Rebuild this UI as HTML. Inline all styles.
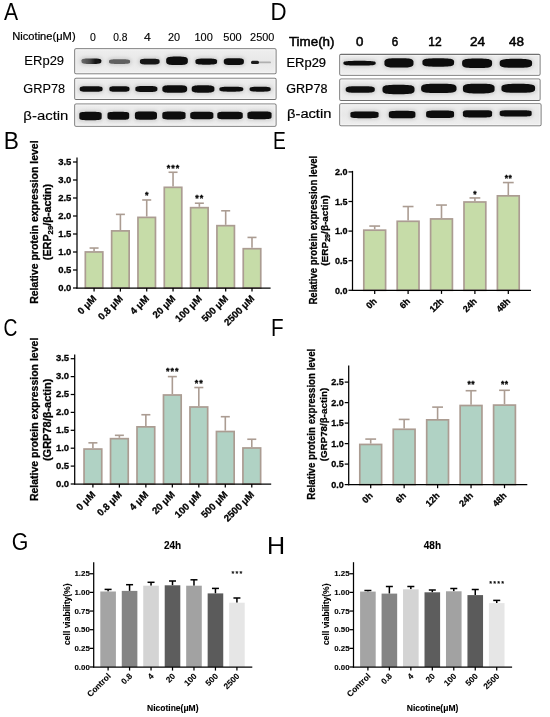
<!DOCTYPE html>
<html><head><meta charset="utf-8"><title>Figure</title>
<style>
html,body{margin:0;padding:0;background:#fff;}
body{width:550px;height:717px;overflow:hidden;}
svg{display:block;}
.b{stroke:#000;stroke-width:0.28px;}
.m{stroke:#000;stroke-width:0.22px;}
.r{stroke:#000;stroke-width:0.12px;}
.bs{stroke:#000;stroke-width:0.1px;}
.h{stroke:#000;stroke-width:0.5px;}
</style></head>
<body>
<svg width="550" height="717" viewBox="0 0 550 717">
<defs>
<filter id="bl" x="-20%" y="-80%" width="140%" height="260%"><feGaussianBlur stdDeviation="0.65"/></filter>
<filter id="bl2" x="-30%" y="-100%" width="160%" height="300%"><feGaussianBlur stdDeviation="1.6"/></filter>
<linearGradient id="g0" x1="0" y1="0" x2="1" y2="0">
<stop offset="0" stop-color="#6a6a6a"/><stop offset="0.4" stop-color="#4a4a4a"/><stop offset="0.7" stop-color="#141414"/><stop offset="1" stop-color="#101010"/>
</linearGradient>
<linearGradient id="bg" x1="0" y1="0" x2="0" y2="1">
<stop offset="0" stop-color="#eeeeee"/><stop offset="0.5" stop-color="#e8e8e8"/><stop offset="1" stop-color="#efefef"/>
</linearGradient>
</defs>
<rect width="550" height="717" fill="#fff"/>
<text x="0" y="0" transform="translate(4.1,19.6) scale(0.91,1)" font-family="'Liberation Sans','Noto Sans CJK SC',sans-serif" font-size="23.2" fill="#000">A</text>
<text x="0" y="0" transform="translate(270.61,20) scale(0.96,1)" font-family="'Liberation Sans','Noto Sans CJK SC',sans-serif" font-size="23.2" fill="#000">D</text>
<text x="0" y="0" transform="translate(3.69,148.7) scale(0.98,1)" font-family="'Liberation Sans','Noto Sans CJK SC',sans-serif" font-size="23.2" fill="#000">B</text>
<text x="0" y="0" transform="translate(273.06,148.7) scale(0.83,1)" font-family="'Liberation Sans','Noto Sans CJK SC',sans-serif" font-size="23.2" fill="#000">E</text>
<text x="0" y="0" transform="translate(3.43,336.2) scale(0.83,1)" font-family="'Liberation Sans','Noto Sans CJK SC',sans-serif" font-size="23.2" fill="#000">C</text>
<text x="0" y="0" transform="translate(271.05,336) scale(0.89,1)" font-family="'Liberation Sans','Noto Sans CJK SC',sans-serif" font-size="23.2" fill="#000">F</text>
<text x="0" y="0" transform="translate(11.84,550) scale(0.92,1)" font-family="'Liberation Sans','Noto Sans CJK SC',sans-serif" font-size="23.2" fill="#000">G</text>
<text x="0" y="0" transform="translate(266.9,554.4) scale(1.08,1)" font-family="'Liberation Sans','Noto Sans CJK SC',sans-serif" font-size="23.2" fill="#000">H</text>
<rect x="74.8" y="48.8" width="201.2" height="25" rx="1.2" fill="url(#bg)" stroke="#707070" stroke-width="1.1"/>
<rect x="75.8" y="49.8" width="199.2" height="23" fill="none" stroke="#f7f7f7" stroke-width="0.8"/>
<rect x="74.8" y="78.2" width="201.2" height="21.3" rx="1.2" fill="url(#bg)" stroke="#707070" stroke-width="1.1"/>
<rect x="75.8" y="79.2" width="199.2" height="19.3" fill="none" stroke="#f7f7f7" stroke-width="0.8"/>
<rect x="74.8" y="104" width="201.2" height="22.2" rx="1.2" fill="url(#bg)" stroke="#707070" stroke-width="1.1"/>
<rect x="75.8" y="105" width="199.2" height="20.2" fill="none" stroke="#f7f7f7" stroke-width="0.8"/>
<polygon points="102.80,61.20 102.75,62.73 102.58,63.44 102.31,63.99 101.92,64.43 101.42,64.81 100.80,65.12 100.05,65.38 99.16,65.59 98.09,65.75 96.78,65.86 95.08,65.93 91.40,65.95 87.72,65.93 86.02,65.86 84.71,65.75 83.64,65.59 82.75,65.38 82.00,65.12 81.38,64.81 80.88,64.43 80.49,63.99 80.22,63.44 80.05,62.73 80.00,61.20 80.05,59.67 80.22,58.96 80.49,58.41 80.88,57.97 81.38,57.59 82.00,57.28 82.75,57.02 83.64,56.81 84.71,56.65 86.02,56.54 87.72,56.47 91.40,56.45 95.08,56.47 96.78,56.54 98.09,56.65 99.16,56.81 100.05,57.02 100.80,57.28 101.42,57.59 101.92,57.97 102.31,58.41 102.58,58.96 102.75,59.67" fill="#b8b8b8" opacity="0.45" filter="url(#bl2)"/>
<polygon points="101.30,61.20 101.25,62.09 101.11,62.50 100.87,62.81 100.54,63.07 100.11,63.29 99.57,63.47 98.91,63.62 98.14,63.74 97.21,63.83 96.07,63.90 94.59,63.94 91.40,63.95 88.21,63.94 86.73,63.90 85.59,63.83 84.66,63.74 83.89,63.62 83.23,63.47 82.69,63.29 82.26,63.07 81.93,62.81 81.69,62.50 81.55,62.09 81.50,61.20 81.55,60.31 81.69,59.90 81.93,59.59 82.26,59.33 82.69,59.11 83.23,58.93 83.89,58.78 84.66,58.66 85.59,58.57 86.73,58.50 88.21,58.46 91.40,58.45 94.59,58.46 96.07,58.50 97.21,58.57 98.14,58.66 98.91,58.78 99.57,58.93 100.11,59.11 100.54,59.33 100.87,59.59 101.11,59.90 101.25,60.31" fill="url(#g0)" filter="url(#bl)"/>
<polygon points="131.60,61.60 131.54,63.00 131.37,63.65 131.08,64.15 130.67,64.56 130.15,64.90 129.49,65.19 128.70,65.43 127.75,65.62 126.62,65.76 125.24,65.87 123.44,65.93 119.55,65.95 115.66,65.93 113.86,65.87 112.48,65.76 111.35,65.62 110.40,65.43 109.61,65.19 108.95,64.90 108.43,64.56 108.02,64.15 107.73,63.65 107.56,63.00 107.50,61.60 107.56,60.20 107.73,59.55 108.02,59.05 108.43,58.64 108.95,58.30 109.61,58.01 110.40,57.77 111.35,57.58 112.48,57.44 113.86,57.33 115.66,57.27 119.55,57.25 123.44,57.27 125.24,57.33 126.62,57.44 127.75,57.58 128.70,57.77 129.49,58.01 130.15,58.30 130.67,58.64 131.08,59.05 131.37,59.55 131.54,60.20" fill="#b8b8b8" opacity="0.45" filter="url(#bl2)"/>
<polygon points="130.10,61.60 130.05,62.36 129.90,62.71 129.65,62.98 129.29,63.20 128.83,63.38 128.25,63.54 127.56,63.67 126.73,63.77 125.74,63.85 124.53,63.91 122.95,63.94 119.55,63.95 116.15,63.94 114.57,63.91 113.36,63.85 112.37,63.77 111.54,63.67 110.85,63.54 110.27,63.38 109.81,63.20 109.45,62.98 109.20,62.71 109.05,62.36 109.00,61.60 109.05,60.84 109.20,60.49 109.45,60.22 109.81,60.00 110.27,59.82 110.85,59.66 111.54,59.53 112.37,59.43 113.36,59.35 114.57,59.29 116.15,59.26 119.55,59.25 122.95,59.26 124.53,59.29 125.74,59.35 126.73,59.43 127.56,59.53 128.25,59.66 128.83,59.82 129.29,60.00 129.65,60.22 129.90,60.49 130.05,60.84" fill="#606060" filter="url(#bl)"/>
<polygon points="161.10,61.60 161.05,63.20 160.88,63.94 160.61,64.50 160.23,64.97 159.73,65.36 159.11,65.68 158.36,65.95 157.47,66.17 156.41,66.34 155.11,66.46 153.41,66.53 149.75,66.55 146.09,66.53 144.39,66.46 143.09,66.34 142.03,66.17 141.14,65.95 140.39,65.68 139.77,65.36 139.27,64.97 138.89,64.50 138.62,63.94 138.45,63.20 138.40,61.60 138.45,60.00 138.62,59.26 138.89,58.70 139.27,58.23 139.77,57.84 140.39,57.52 141.14,57.25 142.03,57.03 143.09,56.86 144.39,56.74 146.09,56.67 149.75,56.65 153.41,56.67 155.11,56.74 156.41,56.86 157.47,57.03 158.36,57.25 159.11,57.52 159.73,57.84 160.23,58.23 160.61,58.70 160.88,59.26 161.05,60.00" fill="#b8b8b8" opacity="0.45" filter="url(#bl2)"/>
<polygon points="159.60,61.60 159.55,62.55 159.41,62.99 159.18,63.33 158.84,63.61 158.41,63.84 157.87,64.03 157.23,64.19 156.45,64.32 155.53,64.42 154.40,64.49 152.93,64.54 149.75,64.55 146.57,64.54 145.10,64.49 143.97,64.42 143.05,64.32 142.27,64.19 141.63,64.03 141.09,63.84 140.66,63.61 140.32,63.33 140.09,62.99 139.95,62.55 139.90,61.60 139.95,60.65 140.09,60.21 140.32,59.87 140.66,59.59 141.09,59.36 141.63,59.17 142.27,59.01 143.05,58.88 143.97,58.78 145.10,58.71 146.57,58.66 149.75,58.65 152.93,58.66 154.40,58.71 155.53,58.78 156.45,58.88 157.23,59.01 157.87,59.17 158.41,59.36 158.84,59.59 159.18,59.87 159.41,60.21 159.55,60.65" fill="#151515" filter="url(#bl)"/>
<polygon points="189.30,60.80 189.24,62.82 189.07,63.75 188.77,64.47 188.36,65.05 187.82,65.54 187.15,65.96 186.34,66.30 185.37,66.57 184.21,66.78 182.80,66.93 180.97,67.02 177.00,67.05 173.03,67.02 171.20,66.93 169.79,66.78 168.63,66.57 167.66,66.30 166.85,65.96 166.18,65.54 165.64,65.05 165.23,64.47 164.93,63.75 164.76,62.82 164.70,60.80 164.76,58.78 164.93,57.85 165.23,57.13 165.64,56.55 166.18,56.06 166.85,55.64 167.66,55.30 168.63,55.03 169.79,54.82 171.20,54.67 173.03,54.58 177.00,54.55 180.97,54.58 182.80,54.67 184.21,54.82 185.37,55.03 186.34,55.30 187.15,55.64 187.82,56.06 188.36,56.55 188.77,57.13 189.07,57.85 189.24,58.78" fill="#b8b8b8" opacity="0.45" filter="url(#bl2)"/>
<polygon points="187.80,60.80 187.75,62.17 187.59,62.81 187.34,63.29 186.97,63.69 186.50,64.03 185.91,64.31 185.20,64.54 184.35,64.72 183.33,64.87 182.10,64.97 180.48,65.03 177.00,65.05 173.52,65.03 171.90,64.97 170.67,64.87 169.65,64.72 168.80,64.54 168.09,64.31 167.50,64.03 167.03,63.69 166.66,63.29 166.41,62.81 166.25,62.17 166.20,60.80 166.25,59.43 166.41,58.79 166.66,58.31 167.03,57.91 167.50,57.57 168.09,57.29 168.80,57.06 169.65,56.88 170.67,56.73 171.90,56.63 173.52,56.57 177.00,56.55 180.48,56.57 182.10,56.63 183.33,56.73 184.35,56.88 185.20,57.06 185.91,57.29 186.50,57.57 186.97,57.91 187.34,58.31 187.59,58.79 187.75,59.43" fill="#080808" filter="url(#bl)"/>
<polygon points="218.60,61.60 218.54,63.23 218.36,63.98 218.07,64.56 217.65,65.04 217.11,65.43 216.44,65.77 215.62,66.04 214.65,66.26 213.49,66.43 212.08,66.55 210.23,66.63 206.25,66.65 202.27,66.63 200.42,66.55 199.01,66.43 197.85,66.26 196.88,66.04 196.06,65.77 195.39,65.43 194.85,65.04 194.43,64.56 194.14,63.98 193.96,63.23 193.90,61.60 193.96,59.97 194.14,59.22 194.43,58.64 194.85,58.16 195.39,57.77 196.06,57.43 196.88,57.16 197.85,56.94 199.01,56.77 200.42,56.65 202.27,56.57 206.25,56.55 210.23,56.57 212.08,56.65 213.49,56.77 214.65,56.94 215.62,57.16 216.44,57.43 217.11,57.77 217.65,58.16 218.07,58.64 218.36,59.22 218.54,59.97" fill="#b8b8b8" opacity="0.45" filter="url(#bl2)"/>
<polygon points="217.10,61.60 217.05,62.58 216.89,63.04 216.63,63.39 216.27,63.68 215.79,63.91 215.20,64.12 214.49,64.28 213.63,64.42 212.61,64.52 211.37,64.59 209.75,64.64 206.25,64.65 202.75,64.64 201.13,64.59 199.89,64.52 198.87,64.42 198.01,64.28 197.30,64.12 196.71,63.91 196.23,63.68 195.87,63.39 195.61,63.04 195.45,62.58 195.40,61.60 195.45,60.62 195.61,60.16 195.87,59.81 196.23,59.52 196.71,59.29 197.30,59.08 198.01,58.92 198.87,58.78 199.89,58.68 201.13,58.61 202.75,58.56 206.25,58.55 209.75,58.56 211.37,58.61 212.61,58.68 213.63,58.78 214.49,58.92 215.20,59.08 215.79,59.29 216.27,59.52 216.63,59.81 216.89,60.16 217.05,60.62" fill="#101010" filter="url(#bl)"/>
<polygon points="245.40,61.60 245.34,63.36 245.18,64.17 244.90,64.80 244.51,65.31 244.01,65.74 243.38,66.10 242.62,66.39 241.71,66.63 240.62,66.82 239.30,66.95 237.58,67.02 233.85,67.05 230.12,67.02 228.40,66.95 227.08,66.82 225.99,66.63 225.08,66.39 224.32,66.10 223.69,65.74 223.19,65.31 222.80,64.80 222.52,64.17 222.36,63.36 222.30,61.60 222.36,59.84 222.52,59.03 222.80,58.40 223.19,57.89 223.69,57.46 224.32,57.10 225.08,56.81 225.99,56.57 227.08,56.38 228.40,56.25 230.12,56.18 233.85,56.15 237.58,56.18 239.30,56.25 240.62,56.38 241.71,56.57 242.62,56.81 243.38,57.10 244.01,57.46 244.51,57.89 244.90,58.40 245.18,59.03 245.34,59.84" fill="#b8b8b8" opacity="0.45" filter="url(#bl2)"/>
<polygon points="243.90,61.60 243.85,62.71 243.71,63.23 243.47,63.62 243.13,63.95 242.69,64.22 242.14,64.45 241.48,64.63 240.69,64.79 239.74,64.90 238.59,64.98 237.09,65.03 233.85,65.05 230.61,65.03 229.11,64.98 227.96,64.90 227.01,64.79 226.22,64.63 225.56,64.45 225.01,64.22 224.57,63.95 224.23,63.62 223.99,63.23 223.85,62.71 223.80,61.60 223.85,60.49 223.99,59.97 224.23,59.58 224.57,59.25 225.01,58.98 225.56,58.75 226.22,58.57 227.01,58.41 227.96,58.30 229.11,58.22 230.61,58.17 233.85,58.15 237.09,58.17 238.59,58.22 239.74,58.30 240.69,58.41 241.48,58.57 242.14,58.75 242.69,58.98 243.13,59.25 243.47,59.58 243.71,59.97 243.85,60.49" fill="#0a0a0a" filter="url(#bl)"/>
<rect x="256" y="61.5" width="15" height="1.8" rx="0.9" fill="#b0b0b0" filter="url(#bl)"/>
<rect x="251" y="60.8" width="8" height="3.2" rx="1.6" fill="#1a1a1a" filter="url(#bl)"/>
<polygon points="104.10,89.00 104.04,90.56 103.85,91.29 103.54,91.84 103.11,92.30 102.54,92.68 101.83,93.00 100.98,93.26 99.96,93.48 98.74,93.64 97.26,93.76 95.33,93.83 91.15,93.85 86.97,93.83 85.04,93.76 83.56,93.64 82.34,93.48 81.32,93.26 80.47,93.00 79.76,92.68 79.19,92.30 78.76,91.84 78.45,91.29 78.26,90.56 78.20,89.00 78.26,87.44 78.45,86.71 78.76,86.16 79.19,85.70 79.76,85.32 80.47,85.00 81.32,84.74 82.34,84.52 83.56,84.36 85.04,84.24 86.97,84.17 91.15,84.15 95.33,84.17 97.26,84.24 98.74,84.36 99.96,84.52 100.98,84.74 101.83,85.00 102.54,85.32 103.11,85.70 103.54,86.16 103.85,86.71 104.04,87.44" fill="#b8b8b8" opacity="0.45" filter="url(#bl2)"/>
<polygon points="102.60,89.00 102.55,89.92 102.38,90.35 102.11,90.67 101.72,90.94 101.22,91.16 100.59,91.35 99.84,91.51 98.94,91.63 97.87,91.73 96.55,91.80 94.84,91.84 91.15,91.85 87.46,91.84 85.75,91.80 84.43,91.73 83.36,91.63 82.46,91.51 81.71,91.35 81.08,91.16 80.58,90.94 80.19,90.67 79.92,90.35 79.75,89.92 79.70,89.00 79.75,88.08 79.92,87.65 80.19,87.33 80.58,87.06 81.08,86.84 81.71,86.65 82.46,86.49 83.36,86.37 84.43,86.27 85.75,86.20 87.46,86.16 91.15,86.15 94.84,86.16 96.55,86.20 97.87,86.27 98.94,86.37 99.84,86.49 100.59,86.65 101.22,86.84 101.72,87.06 102.11,87.33 102.38,87.65 102.55,88.08" fill="#0d0d0d" filter="url(#bl)"/>
<polygon points="131.00,89.00 130.94,90.56 130.78,91.29 130.50,91.84 130.11,92.30 129.60,92.68 128.97,93.00 128.20,93.26 127.29,93.48 126.20,93.64 124.87,93.76 123.14,93.83 119.40,93.85 115.66,93.83 113.93,93.76 112.60,93.64 111.51,93.48 110.60,93.26 109.83,93.00 109.20,92.68 108.69,92.30 108.30,91.84 108.02,91.29 107.86,90.56 107.80,89.00 107.86,87.44 108.02,86.71 108.30,86.16 108.69,85.70 109.20,85.32 109.83,85.00 110.60,84.74 111.51,84.52 112.60,84.36 113.93,84.24 115.66,84.17 119.40,84.15 123.14,84.17 124.87,84.24 126.20,84.36 127.29,84.52 128.20,84.74 128.97,85.00 129.60,85.32 130.11,85.70 130.50,86.16 130.78,86.71 130.94,87.44" fill="#b8b8b8" opacity="0.45" filter="url(#bl2)"/>
<polygon points="129.50,89.00 129.45,89.92 129.31,90.35 129.07,90.67 128.72,90.94 128.28,91.16 127.73,91.35 127.07,91.51 126.27,91.63 125.32,91.73 124.17,91.80 122.66,91.84 119.40,91.85 116.14,91.84 114.63,91.80 113.48,91.73 112.53,91.63 111.73,91.51 111.07,91.35 110.52,91.16 110.08,90.94 109.73,90.67 109.49,90.35 109.35,89.92 109.30,89.00 109.35,88.08 109.49,87.65 109.73,87.33 110.08,87.06 110.52,86.84 111.07,86.65 111.73,86.49 112.53,86.37 113.48,86.27 114.63,86.20 116.14,86.16 119.40,86.15 122.66,86.16 124.17,86.20 125.32,86.27 126.27,86.37 127.07,86.49 127.73,86.65 128.28,86.84 128.72,87.06 129.07,87.33 129.31,87.65 129.45,88.08" fill="#0d0d0d" filter="url(#bl)"/>
<polygon points="158.90,89.00 158.84,90.63 158.66,91.38 158.36,91.96 157.94,92.44 157.39,92.83 156.70,93.17 155.88,93.44 154.89,93.66 153.71,93.83 152.27,93.95 150.40,94.03 146.35,94.05 142.30,94.03 140.43,93.95 138.99,93.83 137.81,93.66 136.82,93.44 136.00,93.17 135.31,92.83 134.76,92.44 134.34,91.96 134.04,91.38 133.86,90.63 133.80,89.00 133.86,87.37 134.04,86.62 134.34,86.04 134.76,85.56 135.31,85.17 136.00,84.83 136.82,84.56 137.81,84.34 138.99,84.17 140.43,84.05 142.30,83.97 146.35,83.95 150.40,83.97 152.27,84.05 153.71,84.17 154.89,84.34 155.88,84.56 156.70,84.83 157.39,85.17 157.94,85.56 158.36,86.04 158.66,86.62 158.84,87.37" fill="#b8b8b8" opacity="0.45" filter="url(#bl2)"/>
<polygon points="157.40,89.00 157.35,89.98 157.19,90.44 156.92,90.79 156.55,91.08 156.07,91.31 155.46,91.52 154.74,91.68 153.87,91.82 152.83,91.92 151.56,91.99 149.92,92.04 146.35,92.05 142.78,92.04 141.14,91.99 139.87,91.92 138.83,91.82 137.96,91.68 137.24,91.52 136.63,91.31 136.15,91.08 135.78,90.79 135.51,90.44 135.35,89.98 135.30,89.00 135.35,88.02 135.51,87.56 135.78,87.21 136.15,86.92 136.63,86.69 137.24,86.48 137.96,86.32 138.83,86.18 139.87,86.08 141.14,86.01 142.78,85.96 146.35,85.95 149.92,85.96 151.56,86.01 152.83,86.08 153.87,86.18 154.74,86.32 155.46,86.48 156.07,86.69 156.55,86.92 156.92,87.21 157.19,87.56 157.35,88.02" fill="#0d0d0d" filter="url(#bl)"/>
<polygon points="188.70,89.00 188.63,90.89 188.43,91.76 188.10,92.43 187.63,92.98 187.02,93.44 186.26,93.83 185.34,94.14 184.24,94.40 182.93,94.60 181.33,94.74 179.25,94.82 174.75,94.85 170.25,94.82 168.17,94.74 166.57,94.60 165.26,94.40 164.16,94.14 163.24,93.83 162.48,93.44 161.87,92.98 161.40,92.43 161.07,91.76 160.87,90.89 160.80,89.00 160.87,87.11 161.07,86.24 161.40,85.57 161.87,85.02 162.48,84.56 163.24,84.17 164.16,83.86 165.26,83.60 166.57,83.40 168.17,83.26 170.25,83.18 174.75,83.15 179.25,83.18 181.33,83.26 182.93,83.40 184.24,83.60 185.34,83.86 186.26,84.17 187.02,84.56 187.63,85.02 188.10,85.57 188.43,86.24 188.63,87.11" fill="#b8b8b8" opacity="0.45" filter="url(#bl2)"/>
<polygon points="187.20,89.00 187.14,90.24 186.96,90.82 186.66,91.26 186.24,91.62 185.70,91.92 185.02,92.18 184.20,92.39 183.22,92.55 182.05,92.68 180.63,92.78 178.77,92.83 174.75,92.85 170.73,92.83 168.87,92.78 167.45,92.68 166.28,92.55 165.30,92.39 164.48,92.18 163.80,91.92 163.26,91.62 162.84,91.26 162.54,90.82 162.36,90.24 162.30,89.00 162.36,87.76 162.54,87.18 162.84,86.74 163.26,86.38 163.80,86.08 164.48,85.82 165.30,85.61 166.28,85.45 167.45,85.32 168.87,85.22 170.73,85.17 174.75,85.15 178.77,85.17 180.63,85.22 182.05,85.32 183.22,85.45 184.20,85.61 185.02,85.82 185.70,86.08 186.24,86.38 186.66,86.74 186.96,87.18 187.14,87.76" fill="#0d0d0d" filter="url(#bl)"/>
<polygon points="215.90,89.00 215.84,90.86 215.65,91.71 215.35,92.37 214.91,92.91 214.35,93.36 213.65,93.74 212.80,94.06 211.79,94.31 210.59,94.50 209.11,94.64 207.20,94.72 203.05,94.75 198.90,94.72 196.99,94.64 195.51,94.50 194.31,94.31 193.30,94.06 192.45,93.74 191.75,93.36 191.19,92.91 190.75,92.37 190.45,91.71 190.26,90.86 190.20,89.00 190.26,87.14 190.45,86.29 190.75,85.63 191.19,85.09 191.75,84.64 192.45,84.26 193.30,83.94 194.31,83.69 195.51,83.50 196.99,83.36 198.90,83.28 203.05,83.25 207.20,83.28 209.11,83.36 210.59,83.50 211.79,83.69 212.80,83.94 213.65,84.26 214.35,84.64 214.91,85.09 215.35,85.63 215.65,86.29 215.84,87.14" fill="#b8b8b8" opacity="0.45" filter="url(#bl2)"/>
<polygon points="214.40,89.00 214.35,90.21 214.18,90.77 213.91,91.20 213.53,91.55 213.03,91.85 212.41,92.09 211.66,92.30 210.77,92.46 209.71,92.59 208.41,92.68 206.71,92.73 203.05,92.75 199.39,92.73 197.69,92.68 196.39,92.59 195.33,92.46 194.44,92.30 193.69,92.09 193.07,91.85 192.57,91.55 192.19,91.20 191.92,90.77 191.75,90.21 191.70,89.00 191.75,87.79 191.92,87.23 192.19,86.80 192.57,86.45 193.07,86.15 193.69,85.91 194.44,85.70 195.33,85.54 196.39,85.41 197.69,85.32 199.39,85.27 203.05,85.25 206.71,85.27 208.41,85.32 209.71,85.41 210.77,85.54 211.66,85.70 212.41,85.91 213.03,86.15 213.53,86.45 213.91,86.80 214.18,87.23 214.35,87.79" fill="#0d0d0d" filter="url(#bl)"/>
<polygon points="244.80,89.20 244.74,90.64 244.54,91.30 244.22,91.81 243.77,92.23 243.18,92.58 242.44,92.87 241.56,93.11 240.50,93.31 239.24,93.46 237.70,93.57 235.69,93.63 231.35,93.65 227.01,93.63 225.00,93.57 223.46,93.46 222.20,93.31 221.14,93.11 220.26,92.87 219.52,92.58 218.93,92.23 218.48,91.81 218.16,91.30 217.96,90.64 217.90,89.20 217.96,87.76 218.16,87.10 218.48,86.59 218.93,86.17 219.52,85.82 220.26,85.53 221.14,85.29 222.20,85.09 223.46,84.94 225.00,84.83 227.01,84.77 231.35,84.75 235.69,84.77 237.70,84.83 239.24,84.94 240.50,85.09 241.56,85.29 242.44,85.53 243.18,85.82 243.77,86.17 244.22,86.59 244.54,87.10 244.74,87.76" fill="#b8b8b8" opacity="0.45" filter="url(#bl2)"/>
<polygon points="243.30,89.20 243.24,89.99 243.07,90.36 242.79,90.64 242.38,90.87 241.86,91.06 241.21,91.22 240.42,91.35 239.48,91.46 238.36,91.54 236.99,91.60 235.21,91.64 231.35,91.65 227.49,91.64 225.71,91.60 224.34,91.54 223.22,91.46 222.28,91.35 221.49,91.22 220.84,91.06 220.32,90.87 219.91,90.64 219.63,90.36 219.46,89.99 219.40,89.20 219.46,88.41 219.63,88.04 219.91,87.76 220.32,87.53 220.84,87.34 221.49,87.18 222.28,87.05 223.22,86.94 224.34,86.86 225.71,86.80 227.49,86.76 231.35,86.75 235.21,86.76 236.99,86.80 238.36,86.86 239.48,86.94 240.42,87.05 241.21,87.18 241.86,87.34 242.38,87.53 242.79,87.76 243.07,88.04 243.24,88.41" fill="#0d0d0d" filter="url(#bl)"/>
<polygon points="272.20,89.20 272.14,90.64 271.97,91.30 271.68,91.81 271.27,92.23 270.75,92.58 270.09,92.87 269.30,93.11 268.35,93.31 267.22,93.46 265.84,93.57 264.04,93.63 260.15,93.65 256.26,93.63 254.46,93.57 253.08,93.46 251.95,93.31 251.00,93.11 250.21,92.87 249.55,92.58 249.03,92.23 248.62,91.81 248.33,91.30 248.16,90.64 248.10,89.20 248.16,87.76 248.33,87.10 248.62,86.59 249.03,86.17 249.55,85.82 250.21,85.53 251.00,85.29 251.95,85.09 253.08,84.94 254.46,84.83 256.26,84.77 260.15,84.75 264.04,84.77 265.84,84.83 267.22,84.94 268.35,85.09 269.30,85.29 270.09,85.53 270.75,85.82 271.27,86.17 271.68,86.59 271.97,87.10 272.14,87.76" fill="#b8b8b8" opacity="0.45" filter="url(#bl2)"/>
<polygon points="270.70,89.20 270.65,89.99 270.50,90.36 270.25,90.64 269.89,90.87 269.43,91.06 268.85,91.22 268.16,91.35 267.33,91.46 266.34,91.54 265.13,91.60 263.55,91.64 260.15,91.65 256.75,91.64 255.17,91.60 253.96,91.54 252.97,91.46 252.14,91.35 251.45,91.22 250.87,91.06 250.41,90.87 250.05,90.64 249.80,90.36 249.65,89.99 249.60,89.20 249.65,88.41 249.80,88.04 250.05,87.76 250.41,87.53 250.87,87.34 251.45,87.18 252.14,87.05 252.97,86.94 253.96,86.86 255.17,86.80 256.75,86.76 260.15,86.75 263.55,86.76 265.13,86.80 266.34,86.86 267.33,86.94 268.16,87.05 268.85,87.18 269.43,87.34 269.89,87.53 270.25,87.76 270.50,88.04 270.65,88.41" fill="#0d0d0d" filter="url(#bl)"/>
<polygon points="103.20,116.00 103.16,118.72 103.03,119.58 102.80,120.19 102.49,120.66 102.08,121.04 101.56,121.35 100.91,121.61 100.12,121.81 99.15,121.96 97.90,122.07 96.12,122.13 90.50,122.15 84.88,122.13 83.10,122.07 81.85,121.96 80.88,121.81 80.09,121.61 79.44,121.35 78.92,121.04 78.51,120.66 78.20,120.19 77.97,119.58 77.84,118.72 77.80,116.00 77.84,113.28 77.97,112.42 78.20,111.81 78.51,111.34 78.92,110.96 79.44,110.65 80.09,110.39 80.88,110.19 81.85,110.04 83.10,109.93 84.88,109.87 90.50,109.85 96.12,109.87 97.90,109.93 99.15,110.04 100.12,110.19 100.91,110.39 101.56,110.65 102.08,110.96 102.49,111.34 102.80,111.81 103.03,112.42 103.16,113.28" fill="#b8b8b8" opacity="0.45" filter="url(#bl2)"/>
<polygon points="101.70,116.00 101.66,117.84 101.55,118.42 101.35,118.83 101.07,119.15 100.71,119.40 100.25,119.61 99.68,119.78 98.99,119.92 98.13,120.02 97.02,120.09 95.46,120.14 90.50,120.15 85.54,120.14 83.98,120.09 82.87,120.02 82.01,119.92 81.32,119.78 80.75,119.61 80.29,119.40 79.93,119.15 79.65,118.83 79.45,118.42 79.34,117.84 79.30,116.00 79.34,114.16 79.45,113.58 79.65,113.17 79.93,112.85 80.29,112.60 80.75,112.39 81.32,112.22 82.01,112.08 82.87,111.98 83.98,111.91 85.54,111.86 90.50,111.85 95.46,111.86 97.02,111.91 98.13,111.98 98.99,112.08 99.68,112.22 100.25,112.39 100.71,112.60 101.07,112.85 101.35,113.17 101.55,113.58 101.66,114.16" fill="#0d0d0d" filter="url(#bl)"/>
<polygon points="130.70,115.80 130.66,118.44 130.53,119.27 130.32,119.85 130.01,120.31 129.61,120.68 129.10,120.98 128.48,121.22 127.71,121.42 126.76,121.56 125.54,121.67 123.82,121.73 118.35,121.75 112.88,121.73 111.16,121.67 109.94,121.56 108.99,121.42 108.22,121.22 107.60,120.98 107.09,120.68 106.69,120.31 106.38,119.85 106.17,119.27 106.04,118.44 106.00,115.80 106.04,113.16 106.17,112.33 106.38,111.75 106.69,111.29 107.09,110.92 107.60,110.62 108.22,110.38 108.99,110.18 109.94,110.04 111.16,109.93 112.88,109.87 118.35,109.85 123.82,109.87 125.54,109.93 126.76,110.04 127.71,110.18 128.48,110.38 129.10,110.62 129.61,110.92 130.01,111.29 130.32,111.75 130.53,112.33 130.66,113.16" fill="#b8b8b8" opacity="0.45" filter="url(#bl2)"/>
<polygon points="129.20,115.80 129.16,117.55 129.05,118.10 128.86,118.49 128.59,118.79 128.24,119.04 127.80,119.24 127.25,119.40 126.57,119.53 125.74,119.63 124.67,119.70 123.16,119.74 118.35,119.75 113.54,119.74 112.03,119.70 110.96,119.63 110.13,119.53 109.45,119.40 108.90,119.24 108.46,119.04 108.11,118.79 107.84,118.49 107.65,118.10 107.54,117.55 107.50,115.80 107.54,114.05 107.65,113.50 107.84,113.11 108.11,112.81 108.46,112.56 108.90,112.36 109.45,112.20 110.13,112.07 110.96,111.97 112.03,111.90 113.54,111.86 118.35,111.85 123.16,111.86 124.67,111.90 125.74,111.97 126.57,112.07 127.25,112.20 127.80,112.36 128.24,112.56 128.59,112.81 128.86,113.11 129.05,113.50 129.16,114.05" fill="#0d0d0d" filter="url(#bl)"/>
<polygon points="158.50,115.60 158.46,118.32 158.33,119.18 158.11,119.79 157.80,120.26 157.39,120.64 156.88,120.95 156.24,121.21 155.46,121.41 154.50,121.56 153.26,121.67 151.51,121.73 145.95,121.75 140.39,121.73 138.64,121.67 137.40,121.56 136.44,121.41 135.66,121.21 135.02,120.95 134.51,120.64 134.10,120.26 133.79,119.79 133.57,119.18 133.44,118.32 133.40,115.60 133.44,112.88 133.57,112.02 133.79,111.41 134.10,110.94 134.51,110.56 135.02,110.25 135.66,109.99 136.44,109.79 137.40,109.64 138.64,109.53 140.39,109.47 145.95,109.45 151.51,109.47 153.26,109.53 154.50,109.64 155.46,109.79 156.24,109.99 156.88,110.25 157.39,110.56 157.80,110.94 158.11,111.41 158.33,112.02 158.46,112.88" fill="#b8b8b8" opacity="0.45" filter="url(#bl2)"/>
<polygon points="157.00,115.60 156.96,117.44 156.85,118.02 156.66,118.43 156.38,118.75 156.02,119.00 155.57,119.21 155.01,119.38 154.32,119.52 153.47,119.62 152.39,119.69 150.84,119.74 145.95,119.75 141.06,119.74 139.51,119.69 138.43,119.62 137.58,119.52 136.89,119.38 136.33,119.21 135.88,119.00 135.52,118.75 135.24,118.43 135.05,118.02 134.94,117.44 134.90,115.60 134.94,113.76 135.05,113.18 135.24,112.77 135.52,112.45 135.88,112.20 136.33,111.99 136.89,111.82 137.58,111.68 138.43,111.58 139.51,111.51 141.06,111.46 145.95,111.45 150.84,111.46 152.39,111.51 153.47,111.58 154.32,111.68 155.01,111.82 155.57,111.99 156.02,112.20 156.38,112.45 156.66,112.77 156.85,113.18 156.96,113.76" fill="#0d0d0d" filter="url(#bl)"/>
<polygon points="187.10,115.50 187.05,118.14 186.92,118.97 186.69,119.55 186.36,120.01 185.94,120.38 185.40,120.68 184.73,120.92 183.92,121.12 182.90,121.26 181.61,121.37 179.77,121.43 173.95,121.45 168.13,121.43 166.29,121.37 165.00,121.26 163.98,121.12 163.17,120.92 162.50,120.68 161.96,120.38 161.54,120.01 161.21,119.55 160.98,118.97 160.85,118.14 160.80,115.50 160.85,112.86 160.98,112.03 161.21,111.45 161.54,110.99 161.96,110.62 162.50,110.32 163.17,110.08 163.98,109.88 165.00,109.74 166.29,109.63 168.13,109.57 173.95,109.55 179.77,109.57 181.61,109.63 182.90,109.74 183.92,109.88 184.73,110.08 185.40,110.32 185.94,110.62 186.36,110.99 186.69,111.45 186.92,112.03 187.05,112.86" fill="#b8b8b8" opacity="0.45" filter="url(#bl2)"/>
<polygon points="185.60,115.50 185.56,117.25 185.44,117.80 185.24,118.19 184.95,118.49 184.57,118.74 184.09,118.94 183.50,119.10 182.78,119.23 181.88,119.33 180.73,119.40 179.11,119.44 173.95,119.45 168.79,119.44 167.17,119.40 166.02,119.33 165.12,119.23 164.40,119.10 163.81,118.94 163.33,118.74 162.95,118.49 162.66,118.19 162.46,117.80 162.34,117.25 162.30,115.50 162.34,113.75 162.46,113.20 162.66,112.81 162.95,112.51 163.33,112.26 163.81,112.06 164.40,111.90 165.12,111.77 166.02,111.67 167.17,111.60 168.79,111.56 173.95,111.55 179.11,111.56 180.73,111.60 181.88,111.67 182.78,111.77 183.50,111.90 184.09,112.06 184.57,112.26 184.95,112.51 185.24,112.81 185.44,113.20 185.56,113.75" fill="#0d0d0d" filter="url(#bl)"/>
<polygon points="214.90,115.50 214.86,118.05 214.72,118.85 214.49,119.42 214.17,119.86 213.74,120.21 213.20,120.51 212.54,120.74 211.73,120.93 210.72,121.07 209.43,121.17 207.60,121.23 201.80,121.25 196.00,121.23 194.17,121.17 192.88,121.07 191.87,120.93 191.06,120.74 190.40,120.51 189.86,120.21 189.43,119.86 189.11,119.42 188.88,118.85 188.74,118.05 188.70,115.50 188.74,112.95 188.88,112.15 189.11,111.58 189.43,111.14 189.86,110.79 190.40,110.49 191.06,110.26 191.87,110.07 192.88,109.93 194.17,109.83 196.00,109.77 201.80,109.75 207.60,109.77 209.43,109.83 210.72,109.93 211.73,110.07 212.54,110.26 213.20,110.49 213.74,110.79 214.17,111.14 214.49,111.58 214.72,112.15 214.86,112.95" fill="#b8b8b8" opacity="0.45" filter="url(#bl2)"/>
<polygon points="213.40,115.50 213.36,117.16 213.24,117.68 213.04,118.05 212.75,118.34 212.37,118.57 211.90,118.76 211.31,118.92 210.59,119.04 209.70,119.13 208.56,119.20 206.94,119.24 201.80,119.25 196.66,119.24 195.04,119.20 193.90,119.13 193.01,119.04 192.29,118.92 191.70,118.76 191.23,118.57 190.85,118.34 190.56,118.05 190.36,117.68 190.24,117.16 190.20,115.50 190.24,113.84 190.36,113.32 190.56,112.95 190.85,112.66 191.23,112.43 191.70,112.24 192.29,112.08 193.01,111.96 193.90,111.87 195.04,111.80 196.66,111.76 201.80,111.75 206.94,111.76 208.56,111.80 209.70,111.87 210.59,111.96 211.31,112.08 211.90,112.24 212.37,112.43 212.75,112.66 213.04,112.95 213.24,113.32 213.36,113.84" fill="#0d0d0d" filter="url(#bl)"/>
<polygon points="244.30,115.50 244.25,118.05 244.10,118.85 243.86,119.42 243.50,119.86 243.04,120.21 242.46,120.51 241.73,120.74 240.85,120.93 239.75,121.07 238.35,121.17 236.36,121.23 230.05,121.25 223.74,121.23 221.75,121.17 220.35,121.07 219.25,120.93 218.37,120.74 217.64,120.51 217.06,120.21 216.60,119.86 216.24,119.42 216.00,118.85 215.85,118.05 215.80,115.50 215.85,112.95 216.00,112.15 216.24,111.58 216.60,111.14 217.06,110.79 217.64,110.49 218.37,110.26 219.25,110.07 220.35,109.93 221.75,109.83 223.74,109.77 230.05,109.75 236.36,109.77 238.35,109.83 239.75,109.93 240.85,110.07 241.73,110.26 242.46,110.49 243.04,110.79 243.50,111.14 243.86,111.58 244.10,112.15 244.25,112.95" fill="#b8b8b8" opacity="0.45" filter="url(#bl2)"/>
<polygon points="242.80,115.50 242.76,117.16 242.62,117.68 242.40,118.05 242.09,118.34 241.67,118.57 241.15,118.76 240.50,118.92 239.71,119.04 238.73,119.13 237.48,119.20 235.70,119.24 230.05,119.25 224.40,119.24 222.62,119.20 221.37,119.13 220.39,119.04 219.60,118.92 218.95,118.76 218.43,118.57 218.01,118.34 217.70,118.05 217.48,117.68 217.34,117.16 217.30,115.50 217.34,113.84 217.48,113.32 217.70,112.95 218.01,112.66 218.43,112.43 218.95,112.24 219.60,112.08 220.39,111.96 221.37,111.87 222.62,111.80 224.40,111.76 230.05,111.75 235.70,111.76 237.48,111.80 238.73,111.87 239.71,111.96 240.50,112.08 241.15,112.24 241.67,112.43 242.09,112.66 242.40,112.95 242.62,113.32 242.76,113.84" fill="#0d0d0d" filter="url(#bl)"/>
<polygon points="273.10,115.30 273.05,117.89 272.91,118.71 272.68,119.28 272.34,119.73 271.90,120.10 271.34,120.39 270.65,120.63 269.81,120.82 268.76,120.97 267.42,121.07 265.52,121.13 259.50,121.15 253.48,121.13 251.58,121.07 250.24,120.97 249.19,120.82 248.35,120.63 247.66,120.39 247.10,120.10 246.66,119.73 246.32,119.28 246.09,118.71 245.95,117.89 245.90,115.30 245.95,112.71 246.09,111.89 246.32,111.32 246.66,110.87 247.10,110.50 247.66,110.21 248.35,109.97 249.19,109.78 250.24,109.63 251.58,109.53 253.48,109.47 259.50,109.45 265.52,109.47 267.42,109.53 268.76,109.63 269.81,109.78 270.65,109.97 271.34,110.21 271.90,110.50 272.34,110.87 272.68,111.32 272.91,111.89 273.05,112.71" fill="#b8b8b8" opacity="0.45" filter="url(#bl2)"/>
<polygon points="271.60,115.30 271.56,117.01 271.43,117.54 271.22,117.92 270.92,118.22 270.53,118.46 270.03,118.65 269.42,118.81 268.67,118.93 267.74,119.03 266.55,119.10 264.86,119.14 259.50,119.15 254.14,119.14 252.45,119.10 251.26,119.03 250.33,118.93 249.58,118.81 248.97,118.65 248.47,118.46 248.08,118.22 247.78,117.92 247.57,117.54 247.44,117.01 247.40,115.30 247.44,113.59 247.57,113.06 247.78,112.68 248.08,112.38 248.47,112.14 248.97,111.95 249.58,111.79 250.33,111.67 251.26,111.57 252.45,111.50 254.14,111.46 259.50,111.45 264.86,111.46 266.55,111.50 267.74,111.57 268.67,111.67 269.42,111.79 270.03,111.95 270.53,112.14 270.92,112.38 271.22,112.68 271.43,113.06 271.56,113.59" fill="#0d0d0d" filter="url(#bl)"/>
<rect x="339.8" y="54.4" width="200.2" height="20.8" rx="1.2" fill="url(#bg)" stroke="#707070" stroke-width="1.1"/>
<rect x="340.8" y="55.4" width="198.2" height="18.8" fill="none" stroke="#f7f7f7" stroke-width="0.8"/>
<rect x="339.8" y="79" width="200.2" height="21.4" rx="1.2" fill="url(#bg)" stroke="#707070" stroke-width="1.1"/>
<rect x="340.8" y="80" width="198.2" height="19.4" fill="none" stroke="#f7f7f7" stroke-width="0.8"/>
<rect x="339.8" y="103.7" width="201.2" height="22.1" rx="1.2" fill="url(#bg)" stroke="#707070" stroke-width="1.1"/>
<rect x="340.8" y="104.7" width="199.2" height="20.1" fill="none" stroke="#f7f7f7" stroke-width="0.8"/>
<polygon points="377.20,63.20 377.12,64.60 376.86,65.25 376.44,65.75 375.84,66.16 375.07,66.50 374.11,66.79 372.95,67.03 371.56,67.22 369.90,67.36 367.88,67.47 365.24,67.53 359.55,67.55 353.86,67.53 351.22,67.47 349.20,67.36 347.54,67.22 346.15,67.03 344.99,66.79 344.03,66.50 343.26,66.16 342.66,65.75 342.24,65.25 341.98,64.60 341.90,63.20 341.98,61.80 342.24,61.15 342.66,60.65 343.26,60.24 344.03,59.90 344.99,59.61 346.15,59.37 347.54,59.18 349.20,59.04 351.22,58.93 353.86,58.87 359.55,58.85 365.24,58.87 367.88,58.93 369.90,59.04 371.56,59.18 372.95,59.37 374.11,59.61 375.07,59.90 375.84,60.24 376.44,60.65 376.86,61.15 377.12,61.80" fill="#b8b8b8" opacity="0.45" filter="url(#bl2)"/>
<polygon points="375.70,63.20 375.62,63.96 375.39,64.31 375.01,64.58 374.46,64.80 373.75,64.98 372.87,65.14 371.81,65.27 370.54,65.37 369.02,65.45 367.17,65.51 364.76,65.54 359.55,65.55 354.34,65.54 351.93,65.51 350.08,65.45 348.56,65.37 347.29,65.27 346.23,65.14 345.35,64.98 344.64,64.80 344.09,64.58 343.71,64.31 343.48,63.96 343.40,63.20 343.48,62.44 343.71,62.09 344.09,61.82 344.64,61.60 345.35,61.42 346.23,61.26 347.29,61.13 348.56,61.03 350.08,60.95 351.93,60.89 354.34,60.86 359.55,60.85 364.76,60.86 367.17,60.89 369.02,60.95 370.54,61.03 371.81,61.13 372.87,61.26 373.75,61.42 374.46,61.60 375.01,61.82 375.39,62.09 375.62,62.44" fill="#0d0d0d" filter="url(#bl)"/>
<polygon points="415.00,62.90 414.92,65.06 414.69,66.06 414.31,66.83 413.77,67.46 413.06,67.99 412.19,68.43 411.13,68.79 409.87,69.09 408.36,69.31 406.52,69.47 404.13,69.57 398.95,69.60 393.77,69.57 391.38,69.47 389.54,69.31 388.03,69.09 386.77,68.79 385.71,68.43 384.84,67.99 384.13,67.46 383.59,66.83 383.21,66.06 382.98,65.06 382.90,62.90 382.98,60.74 383.21,59.74 383.59,58.97 384.13,58.34 384.84,57.81 385.71,57.37 386.77,57.01 388.03,56.71 389.54,56.49 391.38,56.33 393.77,56.23 398.95,56.20 404.13,56.23 406.52,56.33 408.36,56.49 409.87,56.71 411.13,57.01 412.19,57.37 413.06,57.81 413.77,58.34 414.31,58.97 414.69,59.74 414.92,60.74" fill="#b8b8b8" opacity="0.45" filter="url(#bl2)"/>
<polygon points="413.50,62.90 413.43,64.42 413.22,65.12 412.87,65.66 412.38,66.10 411.74,66.47 410.95,66.78 409.99,67.03 408.85,67.24 407.48,67.40 405.82,67.51 403.64,67.58 398.95,67.60 394.26,67.58 392.08,67.51 390.42,67.40 389.05,67.24 387.91,67.03 386.95,66.78 386.16,66.47 385.52,66.10 385.03,65.66 384.68,65.12 384.47,64.42 384.40,62.90 384.47,61.38 384.68,60.68 385.03,60.14 385.52,59.70 386.16,59.33 386.95,59.02 387.91,58.77 389.05,58.56 390.42,58.40 392.08,58.29 394.26,58.22 398.95,58.20 403.64,58.22 405.82,58.29 407.48,58.40 408.85,58.56 409.99,58.77 410.95,59.02 411.74,59.33 412.38,59.70 412.87,60.14 413.22,60.68 413.43,61.38" fill="#0d0d0d" filter="url(#bl)"/>
<polygon points="455.60,62.50 455.52,64.48 455.27,65.40 454.85,66.11 454.27,66.68 453.51,67.17 452.56,67.57 451.42,67.91 450.05,68.18 448.43,68.39 446.44,68.53 443.85,68.62 438.25,68.65 432.65,68.62 430.06,68.53 428.07,68.39 426.45,68.18 425.08,67.91 423.94,67.57 422.99,67.17 422.23,66.68 421.65,66.11 421.23,65.40 420.98,64.48 420.90,62.50 420.98,60.52 421.23,59.60 421.65,58.89 422.23,58.32 422.99,57.83 423.94,57.43 425.08,57.09 426.45,56.82 428.07,56.61 430.06,56.47 432.65,56.38 438.25,56.35 443.85,56.38 446.44,56.47 448.43,56.61 450.05,56.82 451.42,57.09 452.56,57.43 453.51,57.83 454.27,58.32 454.85,58.89 455.27,59.60 455.52,60.52" fill="#b8b8b8" opacity="0.45" filter="url(#bl2)"/>
<polygon points="454.10,62.50 454.02,63.84 453.80,64.46 453.42,64.93 452.88,65.32 452.19,65.65 451.32,65.92 450.28,66.15 449.03,66.33 447.55,66.47 445.73,66.57 443.36,66.63 438.25,66.65 433.14,66.63 430.77,66.57 428.95,66.47 427.47,66.33 426.22,66.15 425.18,65.92 424.31,65.65 423.62,65.32 423.08,64.93 422.70,64.46 422.48,63.84 422.40,62.50 422.48,61.16 422.70,60.54 423.08,60.07 423.62,59.68 424.31,59.35 425.18,59.08 426.22,58.85 427.47,58.67 428.95,58.53 430.77,58.43 433.14,58.37 438.25,58.35 443.36,58.37 445.73,58.43 447.55,58.53 449.03,58.67 450.28,58.85 451.32,59.08 452.19,59.35 452.88,59.68 453.42,60.07 453.80,60.54 454.02,61.16" fill="#0d0d0d" filter="url(#bl)"/>
<polygon points="493.60,63.30 493.52,65.48 493.29,66.49 492.89,67.26 492.33,67.89 491.61,68.42 490.71,68.87 489.62,69.24 488.33,69.53 486.78,69.76 484.89,69.92 482.42,70.02 477.10,70.05 471.78,70.02 469.31,69.92 467.42,69.76 465.87,69.53 464.58,69.24 463.49,68.87 462.59,68.42 461.87,67.89 461.31,67.26 460.91,66.49 460.68,65.48 460.60,63.30 460.68,61.12 460.91,60.11 461.31,59.34 461.87,58.71 462.59,58.18 463.49,57.73 464.58,57.36 465.87,57.07 467.42,56.84 469.31,56.68 471.78,56.58 477.10,56.55 482.42,56.58 484.89,56.68 486.78,56.84 488.33,57.07 489.62,57.36 490.71,57.73 491.61,58.18 492.33,58.71 492.89,59.34 493.29,60.11 493.52,61.12" fill="#b8b8b8" opacity="0.45" filter="url(#bl2)"/>
<polygon points="492.10,63.30 492.03,64.83 491.81,65.54 491.45,66.09 490.95,66.53 490.29,66.91 489.47,67.22 488.49,67.48 487.31,67.69 485.90,67.85 484.18,67.96 481.94,68.03 477.10,68.05 472.26,68.03 470.02,67.96 468.30,67.85 466.89,67.69 465.71,67.48 464.73,67.22 463.91,66.91 463.25,66.53 462.75,66.09 462.39,65.54 462.17,64.83 462.10,63.30 462.17,61.77 462.39,61.06 462.75,60.51 463.25,60.07 463.91,59.69 464.73,59.38 465.71,59.12 466.89,58.91 468.30,58.75 470.02,58.64 472.26,58.57 477.10,58.55 481.94,58.57 484.18,58.64 485.90,58.75 487.31,58.91 488.49,59.12 489.47,59.38 490.29,59.69 490.95,60.07 491.45,60.51 491.81,61.06 492.03,61.77" fill="#0d0d0d" filter="url(#bl)"/>
<polygon points="533.60,63.30 533.52,65.38 533.26,66.34 532.84,67.08 532.24,67.69 531.46,68.20 530.50,68.62 529.33,68.97 527.94,69.25 526.28,69.47 524.25,69.63 521.61,69.72 515.90,69.75 510.19,69.72 507.55,69.63 505.52,69.47 503.86,69.25 502.47,68.97 501.30,68.62 500.34,68.20 499.56,67.69 498.96,67.08 498.54,66.34 498.28,65.38 498.20,63.30 498.28,61.22 498.54,60.26 498.96,59.52 499.56,58.91 500.34,58.40 501.30,57.98 502.47,57.63 503.86,57.35 505.52,57.13 507.55,56.97 510.19,56.88 515.90,56.85 521.61,56.88 524.25,56.97 526.28,57.13 527.94,57.35 529.33,57.63 530.50,57.98 531.46,58.40 532.24,58.91 532.84,59.52 533.26,60.26 533.52,61.22" fill="#b8b8b8" opacity="0.45" filter="url(#bl2)"/>
<polygon points="532.10,63.30 532.02,64.74 531.79,65.40 531.40,65.91 530.86,66.33 530.15,66.68 529.26,66.97 528.20,67.21 526.92,67.41 525.40,67.56 523.55,67.67 521.13,67.73 515.90,67.75 510.67,67.73 508.25,67.67 506.40,67.56 504.88,67.41 503.60,67.21 502.54,66.97 501.65,66.68 500.94,66.33 500.40,65.91 500.01,65.40 499.78,64.74 499.70,63.30 499.78,61.86 500.01,61.20 500.40,60.69 500.94,60.27 501.65,59.92 502.54,59.63 503.60,59.39 504.88,59.19 506.40,59.04 508.25,58.93 510.67,58.87 515.90,58.85 521.13,58.87 523.55,58.93 525.40,59.04 526.92,59.19 528.20,59.39 529.26,59.63 530.15,59.92 530.86,60.27 531.40,60.69 531.79,61.20 532.02,61.86" fill="#0d0d0d" filter="url(#bl)"/>
<polygon points="376.30,89.50 376.22,91.21 375.99,92.00 375.61,92.61 375.07,93.11 374.36,93.52 373.49,93.87 372.43,94.16 371.17,94.39 369.66,94.57 367.82,94.70 365.43,94.77 360.25,94.80 355.07,94.77 352.68,94.70 350.84,94.57 349.33,94.39 348.07,94.16 347.01,93.87 346.14,93.52 345.43,93.11 344.89,92.61 344.51,92.00 344.28,91.21 344.20,89.50 344.28,87.79 344.51,87.00 344.89,86.39 345.43,85.89 346.14,85.48 347.01,85.13 348.07,84.84 349.33,84.61 350.84,84.43 352.68,84.30 355.07,84.23 360.25,84.20 365.43,84.23 367.82,84.30 369.66,84.43 371.17,84.61 372.43,84.84 373.49,85.13 374.36,85.48 375.07,85.89 375.61,86.39 375.99,87.00 376.22,87.79" fill="#b8b8b8" opacity="0.45" filter="url(#bl2)"/>
<polygon points="374.80,89.50 374.73,90.56 374.52,91.06 374.17,91.44 373.68,91.75 373.04,92.00 372.25,92.22 371.29,92.40 370.15,92.55 368.78,92.66 367.12,92.74 364.94,92.78 360.25,92.80 355.56,92.78 353.38,92.74 351.72,92.66 350.35,92.55 349.21,92.40 348.25,92.22 347.46,92.00 346.82,91.75 346.33,91.44 345.98,91.06 345.77,90.56 345.70,89.50 345.77,88.44 345.98,87.94 346.33,87.56 346.82,87.25 347.46,87.00 348.25,86.78 349.21,86.60 350.35,86.45 351.72,86.34 353.38,86.26 355.56,86.22 360.25,86.20 364.94,86.22 367.12,86.26 368.78,86.34 370.15,86.45 371.29,86.60 372.25,86.78 373.04,87.00 373.68,87.25 374.17,87.56 374.52,87.94 374.73,88.44" fill="#0d0d0d" filter="url(#bl)"/>
<polygon points="416.00,89.50 415.92,91.66 415.67,92.66 415.25,93.43 414.66,94.06 413.89,94.59 412.94,95.03 411.78,95.39 410.41,95.69 408.76,95.91 406.76,96.07 404.15,96.17 398.50,96.20 392.85,96.17 390.24,96.07 388.24,95.91 386.59,95.69 385.22,95.39 384.06,95.03 383.11,94.59 382.34,94.06 381.75,93.43 381.33,92.66 381.08,91.66 381.00,89.50 381.08,87.34 381.33,86.34 381.75,85.57 382.34,84.94 383.11,84.41 384.06,83.97 385.22,83.61 386.59,83.31 388.24,83.09 390.24,82.93 392.85,82.83 398.50,82.80 404.15,82.83 406.76,82.93 408.76,83.09 410.41,83.31 411.78,83.61 412.94,83.97 413.89,84.41 414.66,84.94 415.25,85.57 415.67,86.34 415.92,87.34" fill="#b8b8b8" opacity="0.45" filter="url(#bl2)"/>
<polygon points="414.50,89.50 414.42,91.02 414.19,91.72 413.81,92.26 413.27,92.70 412.57,93.07 411.70,93.38 410.64,93.63 409.39,93.84 407.88,94.00 406.05,94.11 403.66,94.18 398.50,94.20 393.34,94.18 390.95,94.11 389.12,94.00 387.61,93.84 386.36,93.63 385.30,93.38 384.43,93.07 383.73,92.70 383.19,92.26 382.81,91.72 382.58,91.02 382.50,89.50 382.58,87.98 382.81,87.28 383.19,86.74 383.73,86.30 384.43,85.93 385.30,85.62 386.36,85.37 387.61,85.16 389.12,85.00 390.95,84.89 393.34,84.82 398.50,84.80 403.66,84.82 406.05,84.89 407.88,85.00 409.39,85.16 410.64,85.37 411.70,85.62 412.57,85.93 413.27,86.30 413.81,86.74 414.19,87.28 414.42,87.98" fill="#0d0d0d" filter="url(#bl)"/>
<polygon points="458.00,88.40 457.91,90.55 457.63,91.54 457.17,92.30 456.53,92.92 455.68,93.45 454.64,93.89 453.37,94.25 451.86,94.54 450.06,94.76 447.86,94.92 444.99,95.02 438.80,95.05 432.61,95.02 429.74,94.92 427.54,94.76 425.74,94.54 424.23,94.25 422.96,93.89 421.92,93.45 421.07,92.92 420.43,92.30 419.97,91.54 419.69,90.55 419.60,88.40 419.69,86.25 419.97,85.26 420.43,84.50 421.07,83.88 421.92,83.35 422.96,82.91 424.23,82.55 425.74,82.26 427.54,82.04 429.74,81.88 432.61,81.78 438.80,81.75 444.99,81.78 447.86,81.88 450.06,82.04 451.86,82.26 453.37,82.55 454.64,82.91 455.68,83.35 456.53,83.88 457.17,84.50 457.63,85.26 457.91,86.25" fill="#b8b8b8" opacity="0.45" filter="url(#bl2)"/>
<polygon points="456.50,88.40 456.42,89.90 456.16,90.59 455.74,91.13 455.14,91.56 454.36,91.93 453.40,92.24 452.23,92.49 450.84,92.69 449.18,92.85 447.15,92.96 444.51,93.03 438.80,93.05 433.09,93.03 430.45,92.96 428.42,92.85 426.76,92.69 425.37,92.49 424.20,92.24 423.24,91.93 422.46,91.56 421.86,91.13 421.44,90.59 421.18,89.90 421.10,88.40 421.18,86.90 421.44,86.21 421.86,85.67 422.46,85.24 423.24,84.87 424.20,84.56 425.37,84.31 426.76,84.11 428.42,83.95 430.45,83.84 433.09,83.77 438.80,83.75 444.51,83.77 447.15,83.84 449.18,83.95 450.84,84.11 452.23,84.31 453.40,84.56 454.36,84.87 455.14,85.24 455.74,85.67 456.16,86.21 456.42,86.90" fill="#0d0d0d" filter="url(#bl)"/>
<polygon points="496.10,88.60 496.02,90.81 495.77,91.83 495.35,92.62 494.77,93.26 494.01,93.80 493.06,94.25 491.92,94.62 490.55,94.92 488.93,95.16 486.94,95.32 484.35,95.42 478.75,95.45 473.15,95.42 470.56,95.32 468.57,95.16 466.95,94.92 465.58,94.62 464.44,94.25 463.49,93.80 462.73,93.26 462.15,92.62 461.73,91.83 461.48,90.81 461.40,88.60 461.48,86.39 461.73,85.37 462.15,84.58 462.73,83.94 463.49,83.40 464.44,82.95 465.58,82.58 466.95,82.28 468.57,82.04 470.56,81.88 473.15,81.78 478.75,81.75 484.35,81.78 486.94,81.88 488.93,82.04 490.55,82.28 491.92,82.58 493.06,82.95 494.01,83.40 494.77,83.94 495.35,84.58 495.77,85.37 496.02,86.39" fill="#b8b8b8" opacity="0.45" filter="url(#bl2)"/>
<polygon points="494.60,88.60 494.52,90.16 494.30,90.89 493.92,91.44 493.38,91.90 492.69,92.28 491.82,92.60 490.78,92.86 489.53,93.08 488.05,93.24 486.23,93.36 483.86,93.43 478.75,93.45 473.64,93.43 471.27,93.36 469.45,93.24 467.97,93.08 466.72,92.86 465.68,92.60 464.81,92.28 464.12,91.90 463.58,91.44 463.20,90.89 462.98,90.16 462.90,88.60 462.98,87.04 463.20,86.31 463.58,85.76 464.12,85.30 464.81,84.92 465.68,84.60 466.72,84.34 467.97,84.12 469.45,83.96 471.27,83.84 473.64,83.77 478.75,83.75 483.86,83.77 486.23,83.84 488.05,83.96 489.53,84.12 490.78,84.34 491.82,84.60 492.69,84.92 493.38,85.30 493.92,85.76 494.30,86.31 494.52,87.04" fill="#0d0d0d" filter="url(#bl)"/>
<polygon points="536.60,88.30 536.51,90.38 536.25,91.34 535.81,92.08 535.19,92.69 534.39,93.20 533.39,93.62 532.18,93.97 530.74,94.25 529.01,94.47 526.91,94.63 524.17,94.72 518.25,94.75 512.33,94.72 509.59,94.63 507.49,94.47 505.76,94.25 504.32,93.97 503.11,93.62 502.11,93.20 501.31,92.69 500.69,92.08 500.25,91.34 499.99,90.38 499.90,88.30 499.99,86.22 500.25,85.26 500.69,84.52 501.31,83.91 502.11,83.40 503.11,82.98 504.32,82.63 505.76,82.35 507.49,82.13 509.59,81.97 512.33,81.88 518.25,81.85 524.17,81.88 526.91,81.97 529.01,82.13 530.74,82.35 532.18,82.63 533.39,82.98 534.39,83.40 535.19,83.91 535.81,84.52 536.25,85.26 536.51,86.22" fill="#b8b8b8" opacity="0.45" filter="url(#bl2)"/>
<polygon points="535.10,88.30 535.02,89.74 534.78,90.40 534.37,90.91 533.81,91.33 533.07,91.68 532.15,91.97 531.04,92.21 529.71,92.41 528.13,92.56 526.20,92.67 523.69,92.73 518.25,92.75 512.81,92.73 510.30,92.67 508.37,92.56 506.79,92.41 505.46,92.21 504.35,91.97 503.43,91.68 502.69,91.33 502.13,90.91 501.72,90.40 501.48,89.74 501.40,88.30 501.48,86.86 501.72,86.20 502.13,85.69 502.69,85.27 503.43,84.92 504.35,84.63 505.46,84.39 506.79,84.19 508.37,84.04 510.30,83.93 512.81,83.87 518.25,83.85 523.69,83.87 526.20,83.93 528.13,84.04 529.71,84.19 531.04,84.39 532.15,84.63 533.07,84.92 533.81,85.27 534.37,85.69 534.78,86.20 535.02,86.86" fill="#0d0d0d" filter="url(#bl)"/>
<polygon points="380.10,114.80 380.05,117.17 379.89,117.92 379.61,118.44 379.23,118.85 378.72,119.19 378.08,119.46 377.29,119.68 376.32,119.85 375.12,119.98 373.58,120.08 371.41,120.13 364.50,120.15 357.59,120.13 355.42,120.08 353.88,119.98 352.68,119.85 351.71,119.68 350.92,119.46 350.28,119.19 349.77,118.85 349.39,118.44 349.11,117.92 348.95,117.17 348.90,114.80 348.95,112.43 349.11,111.68 349.39,111.16 349.77,110.75 350.28,110.41 350.92,110.14 351.71,109.92 352.68,109.75 353.88,109.62 355.42,109.52 357.59,109.47 364.50,109.45 371.41,109.47 373.58,109.52 375.12,109.62 376.32,109.75 377.29,109.92 378.08,110.14 378.72,110.41 379.23,110.75 379.61,111.16 379.89,111.68 380.05,112.43" fill="#b8b8b8" opacity="0.45" filter="url(#bl2)"/>
<polygon points="378.60,114.80 378.55,116.28 378.41,116.75 378.16,117.08 377.81,117.34 377.35,117.55 376.77,117.72 376.06,117.85 375.19,117.96 374.10,118.05 372.71,118.10 370.74,118.14 364.50,118.15 358.26,118.14 356.29,118.10 354.90,118.05 353.81,117.96 352.94,117.85 352.23,117.72 351.65,117.55 351.19,117.34 350.84,117.08 350.59,116.75 350.45,116.28 350.40,114.80 350.45,113.32 350.59,112.85 350.84,112.52 351.19,112.26 351.65,112.05 352.23,111.88 352.94,111.75 353.81,111.64 354.90,111.55 356.29,111.50 358.26,111.46 364.50,111.45 370.74,111.46 372.71,111.50 374.10,111.55 375.19,111.64 376.06,111.75 376.77,111.88 377.35,112.05 377.81,112.26 378.16,112.52 378.41,112.85 378.55,113.32" fill="#0d0d0d" filter="url(#bl)"/>
<polygon points="416.90,114.60 416.85,117.15 416.70,117.95 416.44,118.52 416.07,118.96 415.59,119.31 414.98,119.61 414.24,119.84 413.32,120.03 412.18,120.17 410.72,120.27 408.65,120.33 402.10,120.35 395.55,120.33 393.48,120.27 392.02,120.17 390.88,120.03 389.96,119.84 389.22,119.61 388.61,119.31 388.13,118.96 387.76,118.52 387.50,117.95 387.35,117.15 387.30,114.60 387.35,112.05 387.50,111.25 387.76,110.68 388.13,110.24 388.61,109.89 389.22,109.59 389.96,109.36 390.88,109.17 392.02,109.03 393.48,108.93 395.55,108.87 402.10,108.85 408.65,108.87 410.72,108.93 412.18,109.03 413.32,109.17 414.24,109.36 414.98,109.59 415.59,109.89 416.07,110.24 416.44,110.68 416.70,111.25 416.85,112.05" fill="#b8b8b8" opacity="0.45" filter="url(#bl2)"/>
<polygon points="415.40,114.60 415.35,116.26 415.22,116.78 414.99,117.15 414.66,117.44 414.22,117.67 413.68,117.86 413.01,118.02 412.18,118.14 411.16,118.23 409.85,118.30 407.99,118.34 402.10,118.35 396.21,118.34 394.35,118.30 393.04,118.23 392.02,118.14 391.19,118.02 390.52,117.86 389.98,117.67 389.54,117.44 389.21,117.15 388.98,116.78 388.85,116.26 388.80,114.60 388.85,112.94 388.98,112.42 389.21,112.05 389.54,111.76 389.98,111.53 390.52,111.34 391.19,111.18 392.02,111.06 393.04,110.97 394.35,110.90 396.21,110.86 402.10,110.85 407.99,110.86 409.85,110.90 411.16,110.97 412.18,111.06 413.01,111.18 413.68,111.34 414.22,111.53 414.66,111.76 414.99,112.05 415.22,112.42 415.35,112.94" fill="#0d0d0d" filter="url(#bl)"/>
<polygon points="455.60,114.30 455.55,116.85 455.39,117.65 455.12,118.22 454.73,118.66 454.23,119.01 453.59,119.31 452.81,119.54 451.85,119.73 450.66,119.87 449.13,119.97 446.96,120.03 440.10,120.05 433.24,120.03 431.07,119.97 429.54,119.87 428.35,119.73 427.39,119.54 426.61,119.31 425.97,119.01 425.47,118.66 425.08,118.22 424.81,117.65 424.65,116.85 424.60,114.30 424.65,111.75 424.81,110.95 425.08,110.38 425.47,109.94 425.97,109.59 426.61,109.29 427.39,109.06 428.35,108.87 429.54,108.73 431.07,108.63 433.24,108.57 440.10,108.55 446.96,108.57 449.13,108.63 450.66,108.73 451.85,108.87 452.81,109.06 453.59,109.29 454.23,109.59 454.73,109.94 455.12,110.38 455.39,110.95 455.55,111.75" fill="#b8b8b8" opacity="0.45" filter="url(#bl2)"/>
<polygon points="454.10,114.30 454.05,115.96 453.91,116.48 453.66,116.85 453.32,117.14 452.86,117.37 452.29,117.56 451.58,117.72 450.71,117.84 449.63,117.93 448.25,118.00 446.30,118.04 440.10,118.05 433.90,118.04 431.95,118.00 430.57,117.93 429.49,117.84 428.62,117.72 427.91,117.56 427.34,117.37 426.88,117.14 426.54,116.85 426.29,116.48 426.15,115.96 426.10,114.30 426.15,112.64 426.29,112.12 426.54,111.75 426.88,111.46 427.34,111.23 427.91,111.04 428.62,110.88 429.49,110.76 430.57,110.67 431.95,110.60 433.90,110.56 440.10,110.55 446.30,110.56 448.25,110.60 449.63,110.67 450.71,110.76 451.58,110.88 452.29,111.04 452.86,111.23 453.32,111.46 453.66,111.75 453.91,112.12 454.05,112.64" fill="#0d0d0d" filter="url(#bl)"/>
<polygon points="493.60,113.80 493.54,116.30 493.38,117.09 493.10,117.65 492.70,118.08 492.18,118.43 491.52,118.72 490.70,118.95 489.70,119.13 488.46,119.27 486.88,119.37 484.63,119.43 477.50,119.45 470.37,119.43 468.12,119.37 466.54,119.27 465.30,119.13 464.30,118.95 463.48,118.72 462.82,118.43 462.30,118.08 461.90,117.65 461.62,117.09 461.46,116.30 461.40,113.80 461.46,111.30 461.62,110.51 461.90,109.95 462.30,109.52 462.82,109.17 463.48,108.88 464.30,108.65 465.30,108.47 466.54,108.33 468.12,108.23 470.37,108.17 477.50,108.15 484.63,108.17 486.88,108.23 488.46,108.33 489.70,108.47 490.70,108.65 491.52,108.88 492.18,109.17 492.70,109.52 493.10,109.95 493.38,110.51 493.54,111.30" fill="#b8b8b8" opacity="0.45" filter="url(#bl2)"/>
<polygon points="492.10,113.80 492.05,115.42 491.90,115.93 491.64,116.29 491.28,116.57 490.81,116.79 490.21,116.98 489.47,117.13 488.56,117.25 487.44,117.34 486.00,117.40 483.97,117.44 477.50,117.45 471.03,117.44 469.00,117.40 467.56,117.34 466.44,117.25 465.53,117.13 464.79,116.98 464.19,116.79 463.72,116.57 463.36,116.29 463.10,115.93 462.95,115.42 462.90,113.80 462.95,112.18 463.10,111.67 463.36,111.31 463.72,111.03 464.19,110.81 464.79,110.62 465.53,110.47 466.44,110.35 467.56,110.26 469.00,110.20 471.03,110.16 477.50,110.15 483.97,110.16 486.00,110.20 487.44,110.26 488.56,110.35 489.47,110.47 490.21,110.62 490.81,110.81 491.28,111.03 491.64,111.31 491.90,111.67 492.05,112.18" fill="#0d0d0d" filter="url(#bl)"/>
<polygon points="533.20,113.40 533.14,115.68 532.96,116.40 532.65,116.91 532.22,117.30 531.65,117.62 530.93,117.88 530.05,118.09 528.96,118.26 527.62,118.39 525.89,118.48 523.45,118.53 515.70,118.55 507.95,118.53 505.51,118.48 503.78,118.39 502.44,118.26 501.35,118.09 500.47,117.88 499.75,117.62 499.18,117.30 498.75,116.91 498.44,116.40 498.26,115.68 498.20,113.40 498.26,111.12 498.44,110.40 498.75,109.89 499.18,109.50 499.75,109.18 500.47,108.92 501.35,108.71 502.44,108.54 503.78,108.41 505.51,108.32 507.95,108.27 515.70,108.25 523.45,108.27 525.89,108.32 527.62,108.41 528.96,108.54 530.05,108.71 530.93,108.92 531.65,109.18 532.22,109.50 532.65,109.89 532.96,110.40 533.14,111.12" fill="#b8b8b8" opacity="0.45" filter="url(#bl2)"/>
<polygon points="531.70,113.40 531.65,114.80 531.48,115.23 531.20,115.55 530.81,115.79 530.29,115.98 529.63,116.14 528.82,116.27 527.83,116.37 526.60,116.45 525.02,116.51 522.79,116.54 515.70,116.55 508.61,116.54 506.38,116.51 504.80,116.45 503.57,116.37 502.58,116.27 501.77,116.14 501.11,115.98 500.59,115.79 500.20,115.55 499.92,115.23 499.75,114.80 499.70,113.40 499.75,112.00 499.92,111.57 500.20,111.25 500.59,111.01 501.11,110.82 501.77,110.66 502.58,110.53 503.57,110.43 504.80,110.35 506.38,110.29 508.61,110.26 515.70,110.25 522.79,110.26 525.02,110.29 526.60,110.35 527.83,110.43 528.82,110.53 529.63,110.66 530.29,110.82 530.81,111.01 531.20,111.25 531.48,111.57 531.65,112.00" fill="#0d0d0d" filter="url(#bl)"/>
<text class="m" x="12.28" y="40.2" font-family="'Liberation Sans','Noto Sans CJK SC',sans-serif" font-size="10.4" font-weight="400" text-anchor="start" textLength="63.33" lengthAdjust="spacingAndGlyphs">Nicotine(μM)</text>
<text class="r" x="93" y="40.6" font-family="'Liberation Sans','Noto Sans CJK SC',sans-serif" font-size="10.5" font-weight="400" text-anchor="middle" textLength="5.84" lengthAdjust="spacingAndGlyphs">0</text>
<text class="r" x="120.3" y="40.6" font-family="'Liberation Sans','Noto Sans CJK SC',sans-serif" font-size="10.5" font-weight="400" text-anchor="middle" textLength="14.24" lengthAdjust="spacingAndGlyphs">0.8</text>
<text class="r" x="147.4" y="40.6" font-family="'Liberation Sans','Noto Sans CJK SC',sans-serif" font-size="10.5" font-weight="400" text-anchor="middle" textLength="6.84" lengthAdjust="spacingAndGlyphs">4</text>
<text class="r" x="174" y="40.6" font-family="'Liberation Sans','Noto Sans CJK SC',sans-serif" font-size="10.5" font-weight="400" text-anchor="middle" textLength="12.14" lengthAdjust="spacingAndGlyphs">20</text>
<text class="r" x="203.6" y="40.6" font-family="'Liberation Sans','Noto Sans CJK SC',sans-serif" font-size="10.5" font-weight="400" text-anchor="middle" textLength="18.34" lengthAdjust="spacingAndGlyphs">100</text>
<text class="r" x="232.5" y="40.6" font-family="'Liberation Sans','Noto Sans CJK SC',sans-serif" font-size="10.5" font-weight="400" text-anchor="middle" textLength="18.34" lengthAdjust="spacingAndGlyphs">500</text>
<text class="r" x="262.2" y="40.6" font-family="'Liberation Sans','Noto Sans CJK SC',sans-serif" font-size="10.5" font-weight="400" text-anchor="middle" textLength="24.24" lengthAdjust="spacingAndGlyphs">2500</text>
<text class="r" x="24.36" y="64.5" font-family="'Liberation Sans','Noto Sans CJK SC',sans-serif" font-size="12.9" font-weight="400" text-anchor="start" textLength="39.73" lengthAdjust="spacingAndGlyphs">ERp29</text>
<text class="r" x="23.36" y="93" font-family="'Liberation Sans','Noto Sans CJK SC',sans-serif" font-size="12.9" font-weight="400" text-anchor="start" textLength="41.73" lengthAdjust="spacingAndGlyphs">GRP78</text>
<text class="r" x="23.36" y="120" font-family="'Liberation Sans','Noto Sans CJK SC',sans-serif" font-size="12.9" font-weight="400" text-anchor="start" textLength="45.03" lengthAdjust="spacingAndGlyphs">β-actin</text>
<text class="h" x="288.96" y="46.4" font-family="'Liberation Sans','Noto Sans CJK SC',sans-serif" font-size="12.8" font-weight="400" text-anchor="start" textLength="45.52" lengthAdjust="spacingAndGlyphs">Time(h)</text>
<text class="h" x="359.8" y="46.2" font-family="'Liberation Sans','Noto Sans CJK SC',sans-serif" font-size="12.3" font-weight="400" text-anchor="middle" textLength="7.38" lengthAdjust="spacingAndGlyphs">0</text>
<text class="h" x="395" y="46.2" font-family="'Liberation Sans','Noto Sans CJK SC',sans-serif" font-size="12.3" font-weight="400" text-anchor="middle" textLength="6.48" lengthAdjust="spacingAndGlyphs">6</text>
<text class="h" x="435" y="46.2" font-family="'Liberation Sans','Noto Sans CJK SC',sans-serif" font-size="12.3" font-weight="400" text-anchor="middle" textLength="13.38" lengthAdjust="spacingAndGlyphs">12</text>
<text class="h" x="477.5" y="46.2" font-family="'Liberation Sans','Noto Sans CJK SC',sans-serif" font-size="12.3" font-weight="400" text-anchor="middle" textLength="14.98" lengthAdjust="spacingAndGlyphs">24</text>
<text class="h" x="516.4" y="46.2" font-family="'Liberation Sans','Noto Sans CJK SC',sans-serif" font-size="12.3" font-weight="400" text-anchor="middle" textLength="14.98" lengthAdjust="spacingAndGlyphs">48</text>
<text class="m" x="286.48" y="67.3" font-family="'Liberation Sans','Noto Sans CJK SC',sans-serif" font-size="12.5" font-weight="400" text-anchor="start" textLength="39.6" lengthAdjust="spacingAndGlyphs">ERp29</text>
<text class="m" x="286.27" y="93.1" font-family="'Liberation Sans','Noto Sans CJK SC',sans-serif" font-size="12.5" font-weight="400" text-anchor="start" textLength="41.1" lengthAdjust="spacingAndGlyphs">GRP78</text>
<text class="m" x="287.07" y="118.3" font-family="'Liberation Sans','Noto Sans CJK SC',sans-serif" font-size="12.5" font-weight="400" text-anchor="start" textLength="44.3" lengthAdjust="spacingAndGlyphs">β-actin</text>
<line x1="94.08" y1="251.1" x2="94.08" y2="248.04" stroke="#ab9c92" stroke-width="1.6"/>
<line x1="89.58" y1="248.04" x2="98.58" y2="248.04" stroke="#ab9c92" stroke-width="1.6"/>
<rect x="85.33" y="251.95" width="17.5" height="36.05" fill="#c6dca8" stroke="#ab9c92" stroke-width="1.7"/>
<line x1="120.4" y1="230.04" x2="120.4" y2="214.38" stroke="#ab9c92" stroke-width="1.6"/>
<line x1="115.9" y1="214.38" x2="124.9" y2="214.38" stroke="#ab9c92" stroke-width="1.6"/>
<rect x="111.65" y="230.89" width="17.5" height="57.11" fill="#c6dca8" stroke="#ab9c92" stroke-width="1.7"/>
<line x1="146.72" y1="216.54" x2="146.72" y2="199.98" stroke="#ab9c92" stroke-width="1.6"/>
<line x1="142.22" y1="199.98" x2="151.22" y2="199.98" stroke="#ab9c92" stroke-width="1.6"/>
<rect x="137.97" y="217.39" width="17.5" height="70.61" fill="#c6dca8" stroke="#ab9c92" stroke-width="1.7"/>
<line x1="173.04" y1="186.48" x2="173.04" y2="172.26" stroke="#ab9c92" stroke-width="1.6"/>
<line x1="168.54" y1="172.26" x2="177.54" y2="172.26" stroke="#ab9c92" stroke-width="1.6"/>
<rect x="164.29" y="187.33" width="17.5" height="100.67" fill="#c6dca8" stroke="#ab9c92" stroke-width="1.7"/>
<line x1="199.36" y1="206.82" x2="199.36" y2="203.22" stroke="#ab9c92" stroke-width="1.6"/>
<line x1="194.86" y1="203.22" x2="203.86" y2="203.22" stroke="#ab9c92" stroke-width="1.6"/>
<rect x="190.61" y="207.67" width="17.5" height="80.33" fill="#c6dca8" stroke="#ab9c92" stroke-width="1.7"/>
<line x1="225.68" y1="224.82" x2="225.68" y2="210.78" stroke="#ab9c92" stroke-width="1.6"/>
<line x1="221.18" y1="210.78" x2="230.18" y2="210.78" stroke="#ab9c92" stroke-width="1.6"/>
<rect x="216.93" y="225.67" width="17.5" height="62.33" fill="#c6dca8" stroke="#ab9c92" stroke-width="1.7"/>
<line x1="252" y1="247.86" x2="252" y2="237.42" stroke="#ab9c92" stroke-width="1.6"/>
<line x1="247.5" y1="237.42" x2="256.5" y2="237.42" stroke="#ab9c92" stroke-width="1.6"/>
<rect x="243.25" y="248.71" width="17.5" height="39.29" fill="#c6dca8" stroke="#ab9c92" stroke-width="1.7"/>
<line x1="77" y1="157.5" x2="77" y2="288.62" stroke="#000" stroke-width="1.25"/>
<line x1="76.38" y1="288" x2="270.6" y2="288" stroke="#000" stroke-width="1.25"/>
<line x1="73" y1="288" x2="77" y2="288" stroke="#000" stroke-width="1.25"/>
<text class="b" x="71.4" y="290.75" font-family="'Liberation Sans',Arial,sans-serif" font-size="9.5" font-weight="700" text-anchor="end" fill="#000">0.0</text>
<line x1="73" y1="270" x2="77" y2="270" stroke="#000" stroke-width="1.25"/>
<text class="b" x="71.4" y="272.75" font-family="'Liberation Sans',Arial,sans-serif" font-size="9.5" font-weight="700" text-anchor="end" fill="#000">0.5</text>
<line x1="73" y1="252" x2="77" y2="252" stroke="#000" stroke-width="1.25"/>
<text class="b" x="71.4" y="254.75" font-family="'Liberation Sans',Arial,sans-serif" font-size="9.5" font-weight="700" text-anchor="end" fill="#000">1.0</text>
<line x1="73" y1="234" x2="77" y2="234" stroke="#000" stroke-width="1.25"/>
<text class="b" x="71.4" y="236.75" font-family="'Liberation Sans',Arial,sans-serif" font-size="9.5" font-weight="700" text-anchor="end" fill="#000">1.5</text>
<line x1="73" y1="216" x2="77" y2="216" stroke="#000" stroke-width="1.25"/>
<text class="b" x="71.4" y="218.75" font-family="'Liberation Sans',Arial,sans-serif" font-size="9.5" font-weight="700" text-anchor="end" fill="#000">2.0</text>
<line x1="73" y1="198" x2="77" y2="198" stroke="#000" stroke-width="1.25"/>
<text class="b" x="71.4" y="200.75" font-family="'Liberation Sans',Arial,sans-serif" font-size="9.5" font-weight="700" text-anchor="end" fill="#000">2.5</text>
<line x1="73" y1="180" x2="77" y2="180" stroke="#000" stroke-width="1.25"/>
<text class="b" x="71.4" y="182.75" font-family="'Liberation Sans',Arial,sans-serif" font-size="9.5" font-weight="700" text-anchor="end" fill="#000">3.0</text>
<line x1="73" y1="162" x2="77" y2="162" stroke="#000" stroke-width="1.25"/>
<text class="b" x="71.4" y="164.75" font-family="'Liberation Sans',Arial,sans-serif" font-size="9.5" font-weight="700" text-anchor="end" fill="#000">3.5</text>
<line x1="94.08" y1="288" x2="94.08" y2="291.6" stroke="#000" stroke-width="1.25"/>
<line x1="120.4" y1="288" x2="120.4" y2="291.6" stroke="#000" stroke-width="1.25"/>
<line x1="146.72" y1="288" x2="146.72" y2="291.6" stroke="#000" stroke-width="1.25"/>
<line x1="173.04" y1="288" x2="173.04" y2="291.6" stroke="#000" stroke-width="1.25"/>
<line x1="199.36" y1="288" x2="199.36" y2="291.6" stroke="#000" stroke-width="1.25"/>
<line x1="225.68" y1="288" x2="225.68" y2="291.6" stroke="#000" stroke-width="1.25"/>
<line x1="252" y1="288" x2="252" y2="291.6" stroke="#000" stroke-width="1.25"/>
<text x="0" y="0" transform="translate(97.08,299.3) rotate(-45)" class="b" font-family="'Liberation Sans',Arial,sans-serif" font-size="9.7" font-weight="700" text-anchor="end">0 μM</text>
<text x="0" y="0" transform="translate(123.4,299.3) rotate(-45)" class="b" font-family="'Liberation Sans',Arial,sans-serif" font-size="9.7" font-weight="700" text-anchor="end">0.8 μM</text>
<text x="0" y="0" transform="translate(149.72,299.3) rotate(-45)" class="b" font-family="'Liberation Sans',Arial,sans-serif" font-size="9.7" font-weight="700" text-anchor="end">4 μM</text>
<text x="0" y="0" transform="translate(176.04,299.3) rotate(-45)" class="b" font-family="'Liberation Sans',Arial,sans-serif" font-size="9.7" font-weight="700" text-anchor="end">20 μM</text>
<text x="0" y="0" transform="translate(202.36,299.3) rotate(-45)" class="b" font-family="'Liberation Sans',Arial,sans-serif" font-size="9.7" font-weight="700" text-anchor="end">100 μM</text>
<text x="0" y="0" transform="translate(228.68,299.3) rotate(-45)" class="b" font-family="'Liberation Sans',Arial,sans-serif" font-size="9.7" font-weight="700" text-anchor="end">500 μM</text>
<text x="0" y="0" transform="translate(255,299.3) rotate(-45)" class="b" font-family="'Liberation Sans',Arial,sans-serif" font-size="9.7" font-weight="700" text-anchor="end">2500 μM</text>
<text class="b" x="147.22" y="198.2" font-family="'Liberation Sans',Arial,sans-serif" font-size="9" font-weight="700" text-anchor="middle" fill="#000" letter-spacing="1.0">*</text>
<text class="b" x="173.54" y="171" font-family="'Liberation Sans',Arial,sans-serif" font-size="9" font-weight="700" text-anchor="middle" fill="#000" letter-spacing="1.0">***</text>
<text class="b" x="199.86" y="201.4" font-family="'Liberation Sans',Arial,sans-serif" font-size="9" font-weight="700" text-anchor="middle" fill="#000" letter-spacing="1.0">**</text>
<text x="0" y="0" transform="translate(38.2,222.1) rotate(-90)" class="b" font-family="'Liberation Sans',Arial,sans-serif" font-size="10.5" font-weight="700" text-anchor="middle">Relative protein expression level</text>
<text x="0" y="0" transform="translate(50.8,222) rotate(-90)" class="b" font-family="'Liberation Sans',Arial,sans-serif" font-size="10.8" font-weight="700" text-anchor="middle">(ERP<tspan font-size="7.78" dy="2.38">29</tspan><tspan dy="-2.38">/β-actin)</tspan></text>
<line x1="92.9" y1="448.2" x2="92.9" y2="442.83" stroke="#ab9c92" stroke-width="1.6"/>
<line x1="88.4" y1="442.83" x2="97.4" y2="442.83" stroke="#ab9c92" stroke-width="1.6"/>
<rect x="84.05" y="449.05" width="17.7" height="34.95" fill="#b0d2c4" stroke="#ab9c92" stroke-width="1.7"/>
<line x1="119.38" y1="437.82" x2="119.38" y2="435.31" stroke="#ab9c92" stroke-width="1.6"/>
<line x1="114.88" y1="435.31" x2="123.88" y2="435.31" stroke="#ab9c92" stroke-width="1.6"/>
<rect x="110.53" y="438.67" width="17.7" height="45.33" fill="#b0d2c4" stroke="#ab9c92" stroke-width="1.7"/>
<line x1="145.86" y1="426" x2="145.86" y2="414.73" stroke="#ab9c92" stroke-width="1.6"/>
<line x1="141.36" y1="414.73" x2="150.36" y2="414.73" stroke="#ab9c92" stroke-width="1.6"/>
<rect x="137.01" y="426.85" width="17.7" height="57.15" fill="#b0d2c4" stroke="#ab9c92" stroke-width="1.7"/>
<line x1="172.34" y1="394.14" x2="172.34" y2="376.6" stroke="#ab9c92" stroke-width="1.6"/>
<line x1="167.84" y1="376.6" x2="176.84" y2="376.6" stroke="#ab9c92" stroke-width="1.6"/>
<rect x="163.49" y="394.99" width="17.7" height="89.01" fill="#b0d2c4" stroke="#ab9c92" stroke-width="1.7"/>
<line x1="198.82" y1="406.13" x2="198.82" y2="387.52" stroke="#ab9c92" stroke-width="1.6"/>
<line x1="194.32" y1="387.52" x2="203.32" y2="387.52" stroke="#ab9c92" stroke-width="1.6"/>
<rect x="189.97" y="406.99" width="17.7" height="77.02" fill="#b0d2c4" stroke="#ab9c92" stroke-width="1.7"/>
<line x1="225.3" y1="430.66" x2="225.3" y2="416.7" stroke="#ab9c92" stroke-width="1.6"/>
<line x1="220.8" y1="416.7" x2="229.8" y2="416.7" stroke="#ab9c92" stroke-width="1.6"/>
<rect x="216.45" y="431.51" width="17.7" height="52.49" fill="#b0d2c4" stroke="#ab9c92" stroke-width="1.7"/>
<line x1="251.78" y1="447.13" x2="251.78" y2="439.25" stroke="#ab9c92" stroke-width="1.6"/>
<line x1="247.28" y1="439.25" x2="256.28" y2="439.25" stroke="#ab9c92" stroke-width="1.6"/>
<rect x="242.93" y="447.98" width="17.7" height="36.02" fill="#b0d2c4" stroke="#ab9c92" stroke-width="1.7"/>
<line x1="74.7" y1="354.5" x2="74.7" y2="484.62" stroke="#000" stroke-width="1.25"/>
<line x1="74.08" y1="484" x2="271.2" y2="484" stroke="#000" stroke-width="1.25"/>
<line x1="70.7" y1="484" x2="74.7" y2="484" stroke="#000" stroke-width="1.25"/>
<text class="b" x="69.1" y="486.75" font-family="'Liberation Sans',Arial,sans-serif" font-size="9.5" font-weight="700" text-anchor="end" fill="#000">0.0</text>
<line x1="70.7" y1="466.1" x2="74.7" y2="466.1" stroke="#000" stroke-width="1.25"/>
<text class="b" x="69.1" y="468.86" font-family="'Liberation Sans',Arial,sans-serif" font-size="9.5" font-weight="700" text-anchor="end" fill="#000">0.5</text>
<line x1="70.7" y1="448.2" x2="74.7" y2="448.2" stroke="#000" stroke-width="1.25"/>
<text class="b" x="69.1" y="450.95" font-family="'Liberation Sans',Arial,sans-serif" font-size="9.5" font-weight="700" text-anchor="end" fill="#000">1.0</text>
<line x1="70.7" y1="430.3" x2="74.7" y2="430.3" stroke="#000" stroke-width="1.25"/>
<text class="b" x="69.1" y="433.06" font-family="'Liberation Sans',Arial,sans-serif" font-size="9.5" font-weight="700" text-anchor="end" fill="#000">1.5</text>
<line x1="70.7" y1="412.4" x2="74.7" y2="412.4" stroke="#000" stroke-width="1.25"/>
<text class="b" x="69.1" y="415.15" font-family="'Liberation Sans',Arial,sans-serif" font-size="9.5" font-weight="700" text-anchor="end" fill="#000">2.0</text>
<line x1="70.7" y1="394.5" x2="74.7" y2="394.5" stroke="#000" stroke-width="1.25"/>
<text class="b" x="69.1" y="397.25" font-family="'Liberation Sans',Arial,sans-serif" font-size="9.5" font-weight="700" text-anchor="end" fill="#000">2.5</text>
<line x1="70.7" y1="376.6" x2="74.7" y2="376.6" stroke="#000" stroke-width="1.25"/>
<text class="b" x="69.1" y="379.36" font-family="'Liberation Sans',Arial,sans-serif" font-size="9.5" font-weight="700" text-anchor="end" fill="#000">3.0</text>
<line x1="70.7" y1="358.7" x2="74.7" y2="358.7" stroke="#000" stroke-width="1.25"/>
<text class="b" x="69.1" y="361.46" font-family="'Liberation Sans',Arial,sans-serif" font-size="9.5" font-weight="700" text-anchor="end" fill="#000">3.5</text>
<line x1="92.9" y1="484" x2="92.9" y2="487.6" stroke="#000" stroke-width="1.25"/>
<line x1="119.38" y1="484" x2="119.38" y2="487.6" stroke="#000" stroke-width="1.25"/>
<line x1="145.86" y1="484" x2="145.86" y2="487.6" stroke="#000" stroke-width="1.25"/>
<line x1="172.34" y1="484" x2="172.34" y2="487.6" stroke="#000" stroke-width="1.25"/>
<line x1="198.82" y1="484" x2="198.82" y2="487.6" stroke="#000" stroke-width="1.25"/>
<line x1="225.3" y1="484" x2="225.3" y2="487.6" stroke="#000" stroke-width="1.25"/>
<line x1="251.78" y1="484" x2="251.78" y2="487.6" stroke="#000" stroke-width="1.25"/>
<text x="0" y="0" transform="translate(95.9,495.3) rotate(-45)" class="b" font-family="'Liberation Sans',Arial,sans-serif" font-size="9.7" font-weight="700" text-anchor="end">0 μM</text>
<text x="0" y="0" transform="translate(122.38,495.3) rotate(-45)" class="b" font-family="'Liberation Sans',Arial,sans-serif" font-size="9.7" font-weight="700" text-anchor="end">0.8 μM</text>
<text x="0" y="0" transform="translate(148.86,495.3) rotate(-45)" class="b" font-family="'Liberation Sans',Arial,sans-serif" font-size="9.7" font-weight="700" text-anchor="end">4 μM</text>
<text x="0" y="0" transform="translate(175.34,495.3) rotate(-45)" class="b" font-family="'Liberation Sans',Arial,sans-serif" font-size="9.7" font-weight="700" text-anchor="end">20 μM</text>
<text x="0" y="0" transform="translate(201.82,495.3) rotate(-45)" class="b" font-family="'Liberation Sans',Arial,sans-serif" font-size="9.7" font-weight="700" text-anchor="end">100 μM</text>
<text x="0" y="0" transform="translate(228.3,495.3) rotate(-45)" class="b" font-family="'Liberation Sans',Arial,sans-serif" font-size="9.7" font-weight="700" text-anchor="end">500 μM</text>
<text x="0" y="0" transform="translate(254.78,495.3) rotate(-45)" class="b" font-family="'Liberation Sans',Arial,sans-serif" font-size="9.7" font-weight="700" text-anchor="end">2500 μM</text>
<text class="b" x="172.84" y="373.6" font-family="'Liberation Sans',Arial,sans-serif" font-size="9" font-weight="700" text-anchor="middle" fill="#000" letter-spacing="1.0">***</text>
<text class="b" x="199.32" y="386" font-family="'Liberation Sans',Arial,sans-serif" font-size="9" font-weight="700" text-anchor="middle" fill="#000" letter-spacing="1.0">**</text>
<text x="0" y="0" transform="translate(38.4,419.4) rotate(-90)" class="b" font-family="'Liberation Sans',Arial,sans-serif" font-size="10.5" font-weight="700" text-anchor="middle">Relative protein expression level</text>
<text x="0" y="0" transform="translate(51,419.8) rotate(-90)" class="b" font-family="'Liberation Sans',Arial,sans-serif" font-size="11" font-weight="700" text-anchor="middle">(GRP78/β-actin)</text>
<line x1="374.7" y1="229.32" x2="374.7" y2="226.07" stroke="#ab9c92" stroke-width="1.6"/>
<line x1="369.3" y1="226.07" x2="380.1" y2="226.07" stroke="#ab9c92" stroke-width="1.6"/>
<rect x="363.8" y="230.17" width="21.8" height="60.13" fill="#c6dca8" stroke="#ab9c92" stroke-width="1.7"/>
<line x1="408.1" y1="220.44" x2="408.1" y2="206.53" stroke="#ab9c92" stroke-width="1.6"/>
<line x1="402.7" y1="206.53" x2="413.5" y2="206.53" stroke="#ab9c92" stroke-width="1.6"/>
<rect x="397.2" y="221.29" width="21.8" height="69.01" fill="#c6dca8" stroke="#ab9c92" stroke-width="1.7"/>
<line x1="441.5" y1="218.08" x2="441.5" y2="205.05" stroke="#ab9c92" stroke-width="1.6"/>
<line x1="436.1" y1="205.05" x2="446.9" y2="205.05" stroke="#ab9c92" stroke-width="1.6"/>
<rect x="430.6" y="218.93" width="21.8" height="71.37" fill="#c6dca8" stroke="#ab9c92" stroke-width="1.7"/>
<line x1="474.9" y1="201.14" x2="474.9" y2="197.95" stroke="#ab9c92" stroke-width="1.6"/>
<line x1="469.5" y1="197.95" x2="480.3" y2="197.95" stroke="#ab9c92" stroke-width="1.6"/>
<rect x="464" y="201.99" width="21.8" height="88.31" fill="#c6dca8" stroke="#ab9c92" stroke-width="1.7"/>
<line x1="508.3" y1="194.99" x2="508.3" y2="182.56" stroke="#ab9c92" stroke-width="1.6"/>
<line x1="502.9" y1="182.56" x2="513.7" y2="182.56" stroke="#ab9c92" stroke-width="1.6"/>
<rect x="497.4" y="195.84" width="21.8" height="94.46" fill="#c6dca8" stroke="#ab9c92" stroke-width="1.7"/>
<line x1="352.5" y1="170.9" x2="352.5" y2="290.93" stroke="#000" stroke-width="1.25"/>
<line x1="351.88" y1="290.3" x2="531" y2="290.3" stroke="#000" stroke-width="1.25"/>
<line x1="348.5" y1="290.3" x2="352.5" y2="290.3" stroke="#000" stroke-width="1.25"/>
<text class="b" x="347.5" y="293.54" font-family="'Liberation Sans',Arial,sans-serif" font-size="9" font-weight="700" text-anchor="end" fill="#000">0.0</text>
<line x1="348.5" y1="260.7" x2="352.5" y2="260.7" stroke="#000" stroke-width="1.25"/>
<text class="b" x="347.5" y="263.94" font-family="'Liberation Sans',Arial,sans-serif" font-size="9" font-weight="700" text-anchor="end" fill="#000">0.5</text>
<line x1="348.5" y1="231.1" x2="352.5" y2="231.1" stroke="#000" stroke-width="1.25"/>
<text class="b" x="347.5" y="234.34" font-family="'Liberation Sans',Arial,sans-serif" font-size="9" font-weight="700" text-anchor="end" fill="#000">1.0</text>
<line x1="348.5" y1="201.5" x2="352.5" y2="201.5" stroke="#000" stroke-width="1.25"/>
<text class="b" x="347.5" y="204.74" font-family="'Liberation Sans',Arial,sans-serif" font-size="9" font-weight="700" text-anchor="end" fill="#000">1.5</text>
<line x1="348.5" y1="171.9" x2="352.5" y2="171.9" stroke="#000" stroke-width="1.25"/>
<text class="b" x="347.5" y="175.14" font-family="'Liberation Sans',Arial,sans-serif" font-size="9" font-weight="700" text-anchor="end" fill="#000">2.0</text>
<line x1="374.7" y1="290.3" x2="374.7" y2="293.9" stroke="#000" stroke-width="1.25"/>
<line x1="408.1" y1="290.3" x2="408.1" y2="293.9" stroke="#000" stroke-width="1.25"/>
<line x1="441.5" y1="290.3" x2="441.5" y2="293.9" stroke="#000" stroke-width="1.25"/>
<line x1="474.9" y1="290.3" x2="474.9" y2="293.9" stroke="#000" stroke-width="1.25"/>
<line x1="508.3" y1="290.3" x2="508.3" y2="293.9" stroke="#000" stroke-width="1.25"/>
<text x="0" y="0" transform="translate(377.3,301.9) rotate(-45)" class="b" font-family="'Liberation Sans',Arial,sans-serif" font-size="9" font-weight="700" text-anchor="end">0h</text>
<text x="0" y="0" transform="translate(410.7,301.9) rotate(-45)" class="b" font-family="'Liberation Sans',Arial,sans-serif" font-size="9" font-weight="700" text-anchor="end">6h</text>
<text x="0" y="0" transform="translate(444.1,301.9) rotate(-45)" class="b" font-family="'Liberation Sans',Arial,sans-serif" font-size="9" font-weight="700" text-anchor="end">12h</text>
<text x="0" y="0" transform="translate(477.5,301.9) rotate(-45)" class="b" font-family="'Liberation Sans',Arial,sans-serif" font-size="9" font-weight="700" text-anchor="end">24h</text>
<text x="0" y="0" transform="translate(510.9,301.9) rotate(-45)" class="b" font-family="'Liberation Sans',Arial,sans-serif" font-size="9" font-weight="700" text-anchor="end">48h</text>
<text class="b" x="475.2" y="197.2" font-family="'Liberation Sans',Arial,sans-serif" font-size="8.5" font-weight="700" text-anchor="middle" fill="#000" letter-spacing="0.6">*</text>
<text class="b" x="508.6" y="181" font-family="'Liberation Sans',Arial,sans-serif" font-size="8.5" font-weight="700" text-anchor="middle" fill="#000" letter-spacing="0.6">**</text>
<text x="0" y="0" transform="translate(317,230.2) rotate(-90) scale(0.92,1)" class="b" font-family="'Liberation Sans',Arial,sans-serif" font-size="10.4" font-weight="700" text-anchor="middle">Relative protein expression level</text>
<text x="0" y="0" transform="translate(328,230.4) rotate(-90) scale(1.04,1)" class="b" font-family="'Liberation Sans',Arial,sans-serif" font-size="9.6" font-weight="700" text-anchor="middle">(ERP<tspan font-size="6.91" dy="2.11">29</tspan><tspan dy="-2.11">/β-actin)</tspan></text>
<line x1="370.7" y1="443.6" x2="370.7" y2="439.09" stroke="#ab9c92" stroke-width="1.6"/>
<line x1="365.3" y1="439.09" x2="376.1" y2="439.09" stroke="#ab9c92" stroke-width="1.6"/>
<rect x="359.8" y="444.45" width="21.8" height="40.15" fill="#b0d2c4" stroke="#ab9c92" stroke-width="1.7"/>
<line x1="404.15" y1="428.43" x2="404.15" y2="419.41" stroke="#ab9c92" stroke-width="1.6"/>
<line x1="398.75" y1="419.41" x2="409.55" y2="419.41" stroke="#ab9c92" stroke-width="1.6"/>
<rect x="393.25" y="429.28" width="21.8" height="55.32" fill="#b0d2c4" stroke="#ab9c92" stroke-width="1.7"/>
<line x1="437.6" y1="419" x2="437.6" y2="407.11" stroke="#ab9c92" stroke-width="1.6"/>
<line x1="432.2" y1="407.11" x2="443" y2="407.11" stroke="#ab9c92" stroke-width="1.6"/>
<rect x="426.7" y="419.85" width="21.8" height="64.75" fill="#b0d2c4" stroke="#ab9c92" stroke-width="1.7"/>
<line x1="471.05" y1="404.65" x2="471.05" y2="390.71" stroke="#ab9c92" stroke-width="1.6"/>
<line x1="465.65" y1="390.71" x2="476.45" y2="390.71" stroke="#ab9c92" stroke-width="1.6"/>
<rect x="460.15" y="405.5" width="21.8" height="79.1" fill="#b0d2c4" stroke="#ab9c92" stroke-width="1.7"/>
<line x1="504.5" y1="404.24" x2="504.5" y2="390.3" stroke="#ab9c92" stroke-width="1.6"/>
<line x1="499.1" y1="390.3" x2="509.9" y2="390.3" stroke="#ab9c92" stroke-width="1.6"/>
<rect x="493.6" y="405.09" width="21.8" height="79.51" fill="#b0d2c4" stroke="#ab9c92" stroke-width="1.7"/>
<line x1="348.7" y1="365.5" x2="348.7" y2="485.23" stroke="#000" stroke-width="1.25"/>
<line x1="348.07" y1="484.6" x2="527.3" y2="484.6" stroke="#000" stroke-width="1.25"/>
<line x1="344.7" y1="484.6" x2="348.7" y2="484.6" stroke="#000" stroke-width="1.25"/>
<text class="b" x="343.7" y="487.84" font-family="'Liberation Sans',Arial,sans-serif" font-size="9" font-weight="700" text-anchor="end" fill="#000">0.0</text>
<line x1="344.7" y1="464.1" x2="348.7" y2="464.1" stroke="#000" stroke-width="1.25"/>
<text class="b" x="343.7" y="467.34" font-family="'Liberation Sans',Arial,sans-serif" font-size="9" font-weight="700" text-anchor="end" fill="#000">0.5</text>
<line x1="344.7" y1="443.6" x2="348.7" y2="443.6" stroke="#000" stroke-width="1.25"/>
<text class="b" x="343.7" y="446.84" font-family="'Liberation Sans',Arial,sans-serif" font-size="9" font-weight="700" text-anchor="end" fill="#000">1.0</text>
<line x1="344.7" y1="423.1" x2="348.7" y2="423.1" stroke="#000" stroke-width="1.25"/>
<text class="b" x="343.7" y="426.34" font-family="'Liberation Sans',Arial,sans-serif" font-size="9" font-weight="700" text-anchor="end" fill="#000">1.5</text>
<line x1="344.7" y1="402.6" x2="348.7" y2="402.6" stroke="#000" stroke-width="1.25"/>
<text class="b" x="343.7" y="405.84" font-family="'Liberation Sans',Arial,sans-serif" font-size="9" font-weight="700" text-anchor="end" fill="#000">2.0</text>
<line x1="344.7" y1="382.1" x2="348.7" y2="382.1" stroke="#000" stroke-width="1.25"/>
<text class="b" x="343.7" y="385.34" font-family="'Liberation Sans',Arial,sans-serif" font-size="9" font-weight="700" text-anchor="end" fill="#000">2.5</text>
<line x1="370.7" y1="484.6" x2="370.7" y2="488.2" stroke="#000" stroke-width="1.25"/>
<line x1="404.15" y1="484.6" x2="404.15" y2="488.2" stroke="#000" stroke-width="1.25"/>
<line x1="437.6" y1="484.6" x2="437.6" y2="488.2" stroke="#000" stroke-width="1.25"/>
<line x1="471.05" y1="484.6" x2="471.05" y2="488.2" stroke="#000" stroke-width="1.25"/>
<line x1="504.5" y1="484.6" x2="504.5" y2="488.2" stroke="#000" stroke-width="1.25"/>
<text x="0" y="0" transform="translate(373.3,496.2) rotate(-45)" class="b" font-family="'Liberation Sans',Arial,sans-serif" font-size="9" font-weight="700" text-anchor="end">0h</text>
<text x="0" y="0" transform="translate(406.75,496.2) rotate(-45)" class="b" font-family="'Liberation Sans',Arial,sans-serif" font-size="9" font-weight="700" text-anchor="end">6h</text>
<text x="0" y="0" transform="translate(440.2,496.2) rotate(-45)" class="b" font-family="'Liberation Sans',Arial,sans-serif" font-size="9" font-weight="700" text-anchor="end">12h</text>
<text x="0" y="0" transform="translate(473.65,496.2) rotate(-45)" class="b" font-family="'Liberation Sans',Arial,sans-serif" font-size="9" font-weight="700" text-anchor="end">24h</text>
<text x="0" y="0" transform="translate(507.1,496.2) rotate(-45)" class="b" font-family="'Liberation Sans',Arial,sans-serif" font-size="9" font-weight="700" text-anchor="end">48h</text>
<text class="b" x="471.35" y="387.2" font-family="'Liberation Sans',Arial,sans-serif" font-size="8.5" font-weight="700" text-anchor="middle" fill="#000" letter-spacing="0.6">**</text>
<text class="b" x="504.8" y="387.2" font-family="'Liberation Sans',Arial,sans-serif" font-size="8.5" font-weight="700" text-anchor="middle" fill="#000" letter-spacing="0.6">**</text>
<text x="0" y="0" transform="translate(314.6,424.3) rotate(-90) scale(0.925,1)" class="b" font-family="'Liberation Sans',Arial,sans-serif" font-size="10.5" font-weight="700" text-anchor="middle">Relative protein expression level</text>
<text x="0" y="0" transform="translate(326.8,424.6) rotate(-90)" class="b" font-family="'Liberation Sans',Arial,sans-serif" font-size="9.8" font-weight="700" text-anchor="middle">(GRP78/β-actin)</text>
<line x1="108.1" y1="591.5" x2="108.1" y2="589.4" stroke="#000" stroke-width="1.5"/>
<line x1="104.6" y1="589.4" x2="111.6" y2="589.4" stroke="#000" stroke-width="1.5"/>
<rect x="100.3" y="591.5" width="15.6" height="75.5" fill="#a4a4a4"/>
<line x1="129.57" y1="590.9" x2="129.57" y2="584.7" stroke="#000" stroke-width="1.5"/>
<line x1="126.07" y1="584.7" x2="133.07" y2="584.7" stroke="#000" stroke-width="1.5"/>
<rect x="121.77" y="590.9" width="15.6" height="76.1" fill="#848484"/>
<line x1="151.04" y1="585.7" x2="151.04" y2="582.3" stroke="#000" stroke-width="1.5"/>
<line x1="147.54" y1="582.3" x2="154.54" y2="582.3" stroke="#000" stroke-width="1.5"/>
<rect x="143.24" y="585.7" width="15.6" height="81.3" fill="#d4d4d4"/>
<line x1="172.51" y1="585.3" x2="172.51" y2="581" stroke="#000" stroke-width="1.5"/>
<line x1="169.01" y1="581" x2="176.01" y2="581" stroke="#000" stroke-width="1.5"/>
<rect x="164.71" y="585.3" width="15.6" height="81.7" fill="#5d5d5d"/>
<line x1="193.98" y1="585.7" x2="193.98" y2="579.8" stroke="#000" stroke-width="1.5"/>
<line x1="190.48" y1="579.8" x2="197.48" y2="579.8" stroke="#000" stroke-width="1.5"/>
<rect x="186.18" y="585.7" width="15.6" height="81.3" fill="#a2a2a2"/>
<line x1="215.45" y1="593.4" x2="215.45" y2="588.4" stroke="#000" stroke-width="1.5"/>
<line x1="211.95" y1="588.4" x2="218.95" y2="588.4" stroke="#000" stroke-width="1.5"/>
<rect x="207.65" y="593.4" width="15.6" height="73.6" fill="#5b5b5b"/>
<line x1="236.92" y1="602.7" x2="236.92" y2="598" stroke="#000" stroke-width="1.5"/>
<line x1="233.42" y1="598" x2="240.42" y2="598" stroke="#000" stroke-width="1.5"/>
<rect x="229.12" y="602.7" width="15.6" height="64.3" fill="#e6e6e6"/>
<line x1="93.7" y1="562.2" x2="93.7" y2="667.62" stroke="#000" stroke-width="1.25"/>
<line x1="93.08" y1="667" x2="252.3" y2="667" stroke="#000" stroke-width="1.25"/>
<line x1="89.7" y1="667" x2="93.7" y2="667" stroke="#000" stroke-width="1.25"/>
<text class="bs" x="89.8" y="669.61" font-family="'Liberation Sans',Arial,sans-serif" font-size="7.9" font-weight="700" text-anchor="end" fill="#000">0.00</text>
<line x1="89.7" y1="648.35" x2="93.7" y2="648.35" stroke="#000" stroke-width="1.25"/>
<text class="bs" x="89.8" y="650.96" font-family="'Liberation Sans',Arial,sans-serif" font-size="7.9" font-weight="700" text-anchor="end" fill="#000">0.25</text>
<line x1="89.7" y1="629.7" x2="93.7" y2="629.7" stroke="#000" stroke-width="1.25"/>
<text class="bs" x="89.8" y="632.31" font-family="'Liberation Sans',Arial,sans-serif" font-size="7.9" font-weight="700" text-anchor="end" fill="#000">0.50</text>
<line x1="89.7" y1="611.05" x2="93.7" y2="611.05" stroke="#000" stroke-width="1.25"/>
<text class="bs" x="89.8" y="613.66" font-family="'Liberation Sans',Arial,sans-serif" font-size="7.9" font-weight="700" text-anchor="end" fill="#000">0.75</text>
<line x1="89.7" y1="592.4" x2="93.7" y2="592.4" stroke="#000" stroke-width="1.25"/>
<text class="bs" x="89.8" y="595.01" font-family="'Liberation Sans',Arial,sans-serif" font-size="7.9" font-weight="700" text-anchor="end" fill="#000">1.00</text>
<line x1="89.7" y1="573.75" x2="93.7" y2="573.75" stroke="#000" stroke-width="1.25"/>
<text class="bs" x="89.8" y="576.36" font-family="'Liberation Sans',Arial,sans-serif" font-size="7.9" font-weight="700" text-anchor="end" fill="#000">1.25</text>
<line x1="108.1" y1="667" x2="108.1" y2="670.6" stroke="#000" stroke-width="1.25"/>
<line x1="129.57" y1="667" x2="129.57" y2="670.6" stroke="#000" stroke-width="1.25"/>
<line x1="151.04" y1="667" x2="151.04" y2="670.6" stroke="#000" stroke-width="1.25"/>
<line x1="172.51" y1="667" x2="172.51" y2="670.6" stroke="#000" stroke-width="1.25"/>
<line x1="193.98" y1="667" x2="193.98" y2="670.6" stroke="#000" stroke-width="1.25"/>
<line x1="215.45" y1="667" x2="215.45" y2="670.6" stroke="#000" stroke-width="1.25"/>
<line x1="236.92" y1="667" x2="236.92" y2="670.6" stroke="#000" stroke-width="1.25"/>
<text x="0" y="0" transform="translate(111.3,676.7) rotate(-45)" class="bs" font-family="'Liberation Sans',Arial,sans-serif" font-size="8.3" font-weight="700" text-anchor="end">Control</text>
<text x="0" y="0" transform="translate(132.77,676.7) rotate(-45)" class="bs" font-family="'Liberation Sans',Arial,sans-serif" font-size="8.3" font-weight="700" text-anchor="end">0.8</text>
<text x="0" y="0" transform="translate(154.24,676.7) rotate(-45)" class="bs" font-family="'Liberation Sans',Arial,sans-serif" font-size="8.3" font-weight="700" text-anchor="end">4</text>
<text x="0" y="0" transform="translate(175.71,676.7) rotate(-45)" class="bs" font-family="'Liberation Sans',Arial,sans-serif" font-size="8.3" font-weight="700" text-anchor="end">20</text>
<text x="0" y="0" transform="translate(197.18,676.7) rotate(-45)" class="bs" font-family="'Liberation Sans',Arial,sans-serif" font-size="8.3" font-weight="700" text-anchor="end">100</text>
<text x="0" y="0" transform="translate(218.65,676.7) rotate(-45)" class="bs" font-family="'Liberation Sans',Arial,sans-serif" font-size="8.3" font-weight="700" text-anchor="end">500</text>
<text x="0" y="0" transform="translate(240.12,676.7) rotate(-45)" class="bs" font-family="'Liberation Sans',Arial,sans-serif" font-size="8.3" font-weight="700" text-anchor="end">2500</text>
<text class="bs" x="237.52" y="575.9" font-family="'Liberation Sans',Arial,sans-serif" font-size="7.2" font-weight="700" text-anchor="middle" fill="#000" letter-spacing="1.2">***</text>
<text x="0" y="0" transform="translate(69.6,614.2) rotate(-90)" class="bs" font-family="'Liberation Sans',Arial,sans-serif" font-size="8.5" font-weight="700" text-anchor="middle">cell viability(%)</text>
<text class="bs" x="172.6" y="548.7" font-family="'Liberation Sans',Arial,sans-serif" font-size="10" font-weight="700" text-anchor="middle" fill="#000">24h</text>
<text class="bs" x="172.8" y="711.2" font-family="'Liberation Sans',Arial,sans-serif" font-size="8.5" font-weight="700" text-anchor="middle" fill="#000">Nicotine(μM)</text>
<line x1="367.9" y1="591.6" x2="367.9" y2="590.5" stroke="#000" stroke-width="1.5"/>
<line x1="364.4" y1="590.5" x2="371.4" y2="590.5" stroke="#000" stroke-width="1.5"/>
<rect x="360.1" y="591.6" width="15.6" height="75.4" fill="#a4a4a4"/>
<line x1="389.37" y1="593.6" x2="389.37" y2="586.5" stroke="#000" stroke-width="1.5"/>
<line x1="385.87" y1="586.5" x2="392.87" y2="586.5" stroke="#000" stroke-width="1.5"/>
<rect x="381.57" y="593.6" width="15.6" height="73.4" fill="#848484"/>
<line x1="410.84" y1="589.3" x2="410.84" y2="586.5" stroke="#000" stroke-width="1.5"/>
<line x1="407.34" y1="586.5" x2="414.34" y2="586.5" stroke="#000" stroke-width="1.5"/>
<rect x="403.04" y="589.3" width="15.6" height="77.7" fill="#d4d4d4"/>
<line x1="432.31" y1="592.3" x2="432.31" y2="590" stroke="#000" stroke-width="1.5"/>
<line x1="428.81" y1="590" x2="435.81" y2="590" stroke="#000" stroke-width="1.5"/>
<rect x="424.51" y="592.3" width="15.6" height="74.7" fill="#5d5d5d"/>
<line x1="453.78" y1="591.3" x2="453.78" y2="588.5" stroke="#000" stroke-width="1.5"/>
<line x1="450.28" y1="588.5" x2="457.28" y2="588.5" stroke="#000" stroke-width="1.5"/>
<rect x="445.98" y="591.3" width="15.6" height="75.7" fill="#a2a2a2"/>
<line x1="475.25" y1="595.1" x2="475.25" y2="589.5" stroke="#000" stroke-width="1.5"/>
<line x1="471.75" y1="589.5" x2="478.75" y2="589.5" stroke="#000" stroke-width="1.5"/>
<rect x="467.45" y="595.1" width="15.6" height="71.9" fill="#5b5b5b"/>
<line x1="496.72" y1="603.1" x2="496.72" y2="600.4" stroke="#000" stroke-width="1.5"/>
<line x1="493.22" y1="600.4" x2="500.22" y2="600.4" stroke="#000" stroke-width="1.5"/>
<rect x="488.92" y="603.1" width="15.6" height="63.9" fill="#e6e6e6"/>
<line x1="353.5" y1="562.2" x2="353.5" y2="667.62" stroke="#000" stroke-width="1.25"/>
<line x1="352.88" y1="667" x2="512.1" y2="667" stroke="#000" stroke-width="1.25"/>
<line x1="349.5" y1="667" x2="353.5" y2="667" stroke="#000" stroke-width="1.25"/>
<text class="bs" x="349.6" y="669.61" font-family="'Liberation Sans',Arial,sans-serif" font-size="7.9" font-weight="700" text-anchor="end" fill="#000">0.00</text>
<line x1="349.5" y1="648.35" x2="353.5" y2="648.35" stroke="#000" stroke-width="1.25"/>
<text class="bs" x="349.6" y="650.96" font-family="'Liberation Sans',Arial,sans-serif" font-size="7.9" font-weight="700" text-anchor="end" fill="#000">0.25</text>
<line x1="349.5" y1="629.7" x2="353.5" y2="629.7" stroke="#000" stroke-width="1.25"/>
<text class="bs" x="349.6" y="632.31" font-family="'Liberation Sans',Arial,sans-serif" font-size="7.9" font-weight="700" text-anchor="end" fill="#000">0.50</text>
<line x1="349.5" y1="611.05" x2="353.5" y2="611.05" stroke="#000" stroke-width="1.25"/>
<text class="bs" x="349.6" y="613.66" font-family="'Liberation Sans',Arial,sans-serif" font-size="7.9" font-weight="700" text-anchor="end" fill="#000">0.75</text>
<line x1="349.5" y1="592.4" x2="353.5" y2="592.4" stroke="#000" stroke-width="1.25"/>
<text class="bs" x="349.6" y="595.01" font-family="'Liberation Sans',Arial,sans-serif" font-size="7.9" font-weight="700" text-anchor="end" fill="#000">1.00</text>
<line x1="349.5" y1="573.75" x2="353.5" y2="573.75" stroke="#000" stroke-width="1.25"/>
<text class="bs" x="349.6" y="576.36" font-family="'Liberation Sans',Arial,sans-serif" font-size="7.9" font-weight="700" text-anchor="end" fill="#000">1.25</text>
<line x1="367.9" y1="667" x2="367.9" y2="670.6" stroke="#000" stroke-width="1.25"/>
<line x1="389.37" y1="667" x2="389.37" y2="670.6" stroke="#000" stroke-width="1.25"/>
<line x1="410.84" y1="667" x2="410.84" y2="670.6" stroke="#000" stroke-width="1.25"/>
<line x1="432.31" y1="667" x2="432.31" y2="670.6" stroke="#000" stroke-width="1.25"/>
<line x1="453.78" y1="667" x2="453.78" y2="670.6" stroke="#000" stroke-width="1.25"/>
<line x1="475.25" y1="667" x2="475.25" y2="670.6" stroke="#000" stroke-width="1.25"/>
<line x1="496.72" y1="667" x2="496.72" y2="670.6" stroke="#000" stroke-width="1.25"/>
<text x="0" y="0" transform="translate(371.1,676.7) rotate(-45)" class="bs" font-family="'Liberation Sans',Arial,sans-serif" font-size="8.3" font-weight="700" text-anchor="end">Control</text>
<text x="0" y="0" transform="translate(392.57,676.7) rotate(-45)" class="bs" font-family="'Liberation Sans',Arial,sans-serif" font-size="8.3" font-weight="700" text-anchor="end">0.8</text>
<text x="0" y="0" transform="translate(414.04,676.7) rotate(-45)" class="bs" font-family="'Liberation Sans',Arial,sans-serif" font-size="8.3" font-weight="700" text-anchor="end">4</text>
<text x="0" y="0" transform="translate(435.51,676.7) rotate(-45)" class="bs" font-family="'Liberation Sans',Arial,sans-serif" font-size="8.3" font-weight="700" text-anchor="end">20</text>
<text x="0" y="0" transform="translate(456.98,676.7) rotate(-45)" class="bs" font-family="'Liberation Sans',Arial,sans-serif" font-size="8.3" font-weight="700" text-anchor="end">100</text>
<text x="0" y="0" transform="translate(478.45,676.7) rotate(-45)" class="bs" font-family="'Liberation Sans',Arial,sans-serif" font-size="8.3" font-weight="700" text-anchor="end">500</text>
<text x="0" y="0" transform="translate(499.92,676.7) rotate(-45)" class="bs" font-family="'Liberation Sans',Arial,sans-serif" font-size="8.3" font-weight="700" text-anchor="end">2500</text>
<text class="bs" x="497.32" y="585.9" font-family="'Liberation Sans',Arial,sans-serif" font-size="7.2" font-weight="700" text-anchor="middle" fill="#000" letter-spacing="1.2">****</text>
<text x="0" y="0" transform="translate(329.4,614.2) rotate(-90)" class="bs" font-family="'Liberation Sans',Arial,sans-serif" font-size="8.5" font-weight="700" text-anchor="middle">cell viability(%)</text>
<text class="bs" x="432.4" y="548.7" font-family="'Liberation Sans',Arial,sans-serif" font-size="10" font-weight="700" text-anchor="middle" fill="#000">48h</text>
<text class="bs" x="432.6" y="711.2" font-family="'Liberation Sans',Arial,sans-serif" font-size="8.5" font-weight="700" text-anchor="middle" fill="#000">Nicotine(μM)</text>
</svg>
</body></html>
